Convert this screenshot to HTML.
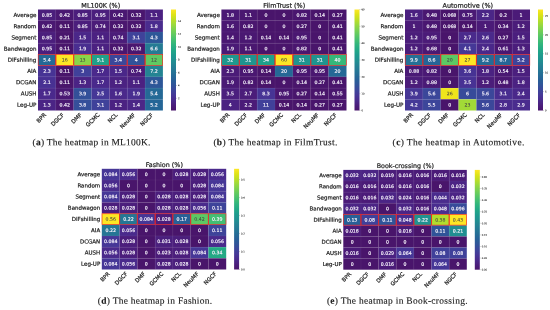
<!DOCTYPE html>
<html lang="en"><head><meta charset="utf-8"><title>Heatmaps</title>
<style>html,body{margin:0;padding:0;background:#fff}body{width:550px;height:310px;overflow:hidden}svg{display:block;filter:blur(0.3px)}</style>
</head><body>
<svg width="550" height="310" viewBox="0 0 550 310">
<defs>
<linearGradient id="vg" x1="0" y1="0" x2="0" y2="1"><stop offset="0.00" stop-color="#fde725"/><stop offset="0.05" stop-color="#dfe318"/><stop offset="0.10" stop-color="#bddf26"/><stop offset="0.15" stop-color="#9bd93d"/><stop offset="0.20" stop-color="#7ad152"/><stop offset="0.25" stop-color="#5ec962"/><stop offset="0.30" stop-color="#44bf72"/><stop offset="0.35" stop-color="#2fb47e"/><stop offset="0.40" stop-color="#22a886"/><stop offset="0.45" stop-color="#1e9c8d"/><stop offset="0.50" stop-color="#209191"/><stop offset="0.55" stop-color="#248493"/><stop offset="0.60" stop-color="#257895"/><stop offset="0.65" stop-color="#256c96"/><stop offset="0.70" stop-color="#285f97"/><stop offset="0.75" stop-color="#315399"/><stop offset="0.80" stop-color="#3d459a"/><stop offset="0.85" stop-color="#463797"/><stop offset="0.90" stop-color="#4a2a8c"/><stop offset="0.95" stop-color="#4b1e7c"/><stop offset="1.00" stop-color="#49156b"/></linearGradient>
</defs>
<rect width="550" height="310" fill="#fff"/>
<g font-family="DejaVu Sans, Liberation Sans, sans-serif">
<rect x="38.00" y="9.50" width="17.89" height="11.27" fill="#4b1e7c"/>
<rect x="55.84" y="9.50" width="17.89" height="11.27" fill="#4a1872"/>
<rect x="73.69" y="9.50" width="17.89" height="11.27" fill="#4b1e7c"/>
<rect x="91.53" y="9.50" width="17.89" height="11.27" fill="#4b1e7d"/>
<rect x="109.37" y="9.50" width="17.89" height="11.27" fill="#4a1872"/>
<rect x="127.21" y="9.50" width="17.89" height="11.27" fill="#4a166f"/>
<rect x="145.06" y="9.50" width="17.84" height="11.27" fill="#4b2181"/>
<rect x="38.00" y="20.72" width="17.89" height="11.27" fill="#4a1872"/>
<rect x="55.84" y="20.72" width="17.89" height="11.27" fill="#49156b"/>
<rect x="73.69" y="20.72" width="17.89" height="11.27" fill="#4b1e7c"/>
<rect x="91.53" y="20.72" width="17.89" height="11.27" fill="#4b1c79"/>
<rect x="109.37" y="20.72" width="17.89" height="11.27" fill="#4a166f"/>
<rect x="127.21" y="20.72" width="17.89" height="11.27" fill="#4a166f"/>
<rect x="145.06" y="20.72" width="17.84" height="11.27" fill="#4a2c8e"/>
<rect x="38.00" y="31.94" width="17.89" height="11.27" fill="#4b1e7c"/>
<rect x="55.84" y="31.94" width="17.89" height="11.27" fill="#49156c"/>
<rect x="73.69" y="31.94" width="17.89" height="11.27" fill="#4a2789"/>
<rect x="91.53" y="31.94" width="17.89" height="11.27" fill="#4b2181"/>
<rect x="109.37" y="31.94" width="17.89" height="11.27" fill="#4b1c79"/>
<rect x="127.21" y="31.94" width="17.89" height="11.27" fill="#3f429a"/>
<rect x="145.06" y="31.94" width="17.84" height="11.27" fill="#2d5798"/>
<rect x="38.00" y="43.17" width="17.89" height="11.27" fill="#4b1e7d"/>
<rect x="55.84" y="43.17" width="17.89" height="11.27" fill="#49156b"/>
<rect x="73.69" y="43.17" width="17.89" height="11.27" fill="#492e90"/>
<rect x="91.53" y="43.17" width="17.89" height="11.27" fill="#4b2181"/>
<rect x="109.37" y="43.17" width="17.89" height="11.27" fill="#4a166f"/>
<rect x="127.21" y="43.17" width="17.89" height="11.27" fill="#4a166f"/>
<rect x="145.06" y="43.17" width="17.84" height="11.27" fill="#257b94"/>
<rect x="38.00" y="54.39" width="17.89" height="11.27" fill="#256996"/>
<rect x="55.84" y="54.39" width="17.89" height="11.27" fill="#fde725"/>
<rect x="73.69" y="54.39" width="17.89" height="11.27" fill="#89d548"/>
<rect x="91.53" y="54.39" width="17.89" height="11.27" fill="#1fa18a"/>
<rect x="109.37" y="54.39" width="17.89" height="11.27" fill="#3b479a"/>
<rect x="127.21" y="54.39" width="17.89" height="11.27" fill="#325299"/>
<rect x="145.06" y="54.39" width="17.84" height="11.27" fill="#60ca61"/>
<rect x="38.00" y="65.61" width="17.89" height="11.27" fill="#473495"/>
<rect x="55.84" y="65.61" width="17.89" height="11.27" fill="#49156b"/>
<rect x="73.69" y="65.61" width="17.89" height="11.27" fill="#40419a"/>
<rect x="91.53" y="65.61" width="17.89" height="11.27" fill="#4a298c"/>
<rect x="109.37" y="65.61" width="17.89" height="11.27" fill="#4a2789"/>
<rect x="127.21" y="65.61" width="17.89" height="11.27" fill="#4b1c79"/>
<rect x="145.06" y="65.61" width="17.84" height="11.27" fill="#248493"/>
<rect x="38.00" y="76.83" width="17.89" height="11.27" fill="#483193"/>
<rect x="55.84" y="76.83" width="17.89" height="11.27" fill="#49156b"/>
<rect x="73.69" y="76.83" width="17.89" height="11.27" fill="#4b2485"/>
<rect x="91.53" y="76.83" width="17.89" height="11.27" fill="#4a298c"/>
<rect x="109.37" y="76.83" width="17.89" height="11.27" fill="#4b2282"/>
<rect x="127.21" y="76.83" width="17.89" height="11.27" fill="#4b2181"/>
<rect x="145.06" y="76.83" width="17.84" height="11.27" fill="#2d5798"/>
<rect x="38.00" y="88.06" width="17.89" height="11.27" fill="#4a298c"/>
<rect x="55.84" y="88.06" width="17.89" height="11.27" fill="#4a1873"/>
<rect x="73.69" y="88.06" width="17.89" height="11.27" fill="#335099"/>
<rect x="91.53" y="88.06" width="17.89" height="11.27" fill="#453797"/>
<rect x="109.37" y="88.06" width="17.89" height="11.27" fill="#4a298b"/>
<rect x="127.21" y="88.06" width="17.89" height="11.27" fill="#492e90"/>
<rect x="145.06" y="88.06" width="17.84" height="11.27" fill="#256996"/>
<rect x="38.00" y="99.28" width="17.89" height="11.22" fill="#4b2485"/>
<rect x="55.84" y="99.28" width="17.89" height="11.22" fill="#4a1872"/>
<rect x="73.69" y="99.28" width="17.89" height="11.22" fill="#354f9a"/>
<rect x="91.53" y="99.28" width="17.89" height="11.22" fill="#3f429a"/>
<rect x="109.37" y="99.28" width="17.89" height="11.22" fill="#4b2282"/>
<rect x="127.21" y="99.28" width="17.89" height="11.22" fill="#4b2687"/>
<rect x="145.06" y="99.28" width="17.84" height="11.22" fill="#256697"/>
<path d="M55.84 9.50V110.50M73.69 9.50V110.50M91.53 9.50V110.50M109.37 9.50V110.50M127.21 9.50V110.50M145.06 9.50V110.50M38.00 20.72H162.90M38.00 31.94H162.90M38.00 43.17H162.90M38.00 54.39H162.90M38.00 65.61H162.90M38.00 76.83H162.90M38.00 88.06H162.90M38.00 99.28H162.90" stroke="#fff" stroke-width="0.30" stroke-opacity="0.16" fill="none"/>
<rect x="38.21" y="54.60" width="17.42" height="10.80" fill="none" stroke="#f01a1a" stroke-width="0.62"/>
<rect x="56.05" y="54.60" width="17.42" height="10.80" fill="none" stroke="#f01a1a" stroke-width="0.62"/>
<rect x="73.90" y="54.60" width="17.42" height="10.80" fill="none" stroke="#f01a1a" stroke-width="0.62"/>
<rect x="91.74" y="54.60" width="17.42" height="10.80" fill="none" stroke="#f01a1a" stroke-width="0.62"/>
<rect x="109.58" y="54.60" width="17.42" height="10.80" fill="none" stroke="#f01a1a" stroke-width="0.62"/>
<rect x="127.42" y="54.60" width="17.42" height="10.80" fill="none" stroke="#f01a1a" stroke-width="0.62"/>
<rect x="145.27" y="54.60" width="17.42" height="10.80" fill="none" stroke="#f01a1a" stroke-width="0.62"/>
<text transform="translate(46.92 16.71) rotate(0.05)" font-size="4.70" text-anchor="middle" fill="#f4f0fa" stroke="#f4f0fa" stroke-width="0.17">0.85</text>
<text transform="translate(64.76 16.71) rotate(0.05)" font-size="4.70" text-anchor="middle" fill="#f4f0fa" stroke="#f4f0fa" stroke-width="0.17">0.42</text>
<text transform="translate(82.61 16.71) rotate(0.05)" font-size="4.70" text-anchor="middle" fill="#f4f0fa" stroke="#f4f0fa" stroke-width="0.17">0.85</text>
<text transform="translate(100.45 16.71) rotate(0.05)" font-size="4.70" text-anchor="middle" fill="#f4f0fa" stroke="#f4f0fa" stroke-width="0.17">0.95</text>
<text transform="translate(118.29 16.71) rotate(0.05)" font-size="4.70" text-anchor="middle" fill="#f4f0fa" stroke="#f4f0fa" stroke-width="0.17">0.42</text>
<text transform="translate(136.14 16.71) rotate(0.05)" font-size="4.70" text-anchor="middle" fill="#f4f0fa" stroke="#f4f0fa" stroke-width="0.17">0.32</text>
<text transform="translate(153.98 16.71) rotate(0.05)" font-size="4.70" text-anchor="middle" fill="#f4f0fa" stroke="#f4f0fa" stroke-width="0.17">1.1</text>
<text transform="translate(46.92 27.93) rotate(0.05)" font-size="4.70" text-anchor="middle" fill="#f4f0fa" stroke="#f4f0fa" stroke-width="0.17">0.42</text>
<text transform="translate(64.76 27.93) rotate(0.05)" font-size="4.70" text-anchor="middle" fill="#f4f0fa" stroke="#f4f0fa" stroke-width="0.17">0.11</text>
<text transform="translate(82.61 27.93) rotate(0.05)" font-size="4.70" text-anchor="middle" fill="#f4f0fa" stroke="#f4f0fa" stroke-width="0.17">0.85</text>
<text transform="translate(100.45 27.93) rotate(0.05)" font-size="4.70" text-anchor="middle" fill="#f4f0fa" stroke="#f4f0fa" stroke-width="0.17">0.74</text>
<text transform="translate(118.29 27.93) rotate(0.05)" font-size="4.70" text-anchor="middle" fill="#f4f0fa" stroke="#f4f0fa" stroke-width="0.17">0.32</text>
<text transform="translate(136.14 27.93) rotate(0.05)" font-size="4.70" text-anchor="middle" fill="#f4f0fa" stroke="#f4f0fa" stroke-width="0.17">0.32</text>
<text transform="translate(153.98 27.93) rotate(0.05)" font-size="4.70" text-anchor="middle" fill="#f4f0fa" stroke="#f4f0fa" stroke-width="0.17">1.8</text>
<text transform="translate(46.92 39.15) rotate(0.05)" font-size="4.70" text-anchor="middle" fill="#f4f0fa" stroke="#f4f0fa" stroke-width="0.17">0.85</text>
<text transform="translate(64.76 39.15) rotate(0.05)" font-size="4.70" text-anchor="middle" fill="#f4f0fa" stroke="#f4f0fa" stroke-width="0.17">0.21</text>
<text transform="translate(82.61 39.15) rotate(0.05)" font-size="4.70" text-anchor="middle" fill="#f4f0fa" stroke="#f4f0fa" stroke-width="0.17">1.5</text>
<text transform="translate(100.45 39.15) rotate(0.05)" font-size="4.70" text-anchor="middle" fill="#f4f0fa" stroke="#f4f0fa" stroke-width="0.17">1.1</text>
<text transform="translate(118.29 39.15) rotate(0.05)" font-size="4.70" text-anchor="middle" fill="#f4f0fa" stroke="#f4f0fa" stroke-width="0.17">0.74</text>
<text transform="translate(136.14 39.15) rotate(0.05)" font-size="4.70" text-anchor="middle" fill="#f4f0fa" stroke="#f4f0fa" stroke-width="0.17">3.1</text>
<text transform="translate(153.98 39.15) rotate(0.05)" font-size="4.70" text-anchor="middle" fill="#f4f0fa" stroke="#f4f0fa" stroke-width="0.17">4.3</text>
<text transform="translate(46.92 50.37) rotate(0.05)" font-size="4.70" text-anchor="middle" fill="#f4f0fa" stroke="#f4f0fa" stroke-width="0.17">0.95</text>
<text transform="translate(64.76 50.37) rotate(0.05)" font-size="4.70" text-anchor="middle" fill="#f4f0fa" stroke="#f4f0fa" stroke-width="0.17">0.11</text>
<text transform="translate(82.61 50.37) rotate(0.05)" font-size="4.70" text-anchor="middle" fill="#f4f0fa" stroke="#f4f0fa" stroke-width="0.17">1.9</text>
<text transform="translate(100.45 50.37) rotate(0.05)" font-size="4.70" text-anchor="middle" fill="#f4f0fa" stroke="#f4f0fa" stroke-width="0.17">1.1</text>
<text transform="translate(118.29 50.37) rotate(0.05)" font-size="4.70" text-anchor="middle" fill="#f4f0fa" stroke="#f4f0fa" stroke-width="0.17">0.32</text>
<text transform="translate(136.14 50.37) rotate(0.05)" font-size="4.70" text-anchor="middle" fill="#f4f0fa" stroke="#f4f0fa" stroke-width="0.17">0.32</text>
<text transform="translate(153.98 50.37) rotate(0.05)" font-size="4.70" text-anchor="middle" fill="#f4f0fa" stroke="#f4f0fa" stroke-width="0.17">6.6</text>
<text transform="translate(46.92 61.60) rotate(0.05)" font-size="4.70" text-anchor="middle" fill="#f4f0fa" stroke="#f4f0fa" stroke-width="0.17">5.4</text>
<text transform="translate(64.76 61.60) rotate(0.05)" font-size="4.70" text-anchor="middle" fill="#444444" stroke="#444444" stroke-width="0.05">16</text>
<text transform="translate(82.61 61.60) rotate(0.05)" font-size="4.70" text-anchor="middle" fill="#444444" stroke="#444444" stroke-width="0.05">13</text>
<text transform="translate(100.45 61.60) rotate(0.05)" font-size="4.70" text-anchor="middle" fill="#f4f0fa" stroke="#f4f0fa" stroke-width="0.17">9.1</text>
<text transform="translate(118.29 61.60) rotate(0.05)" font-size="4.70" text-anchor="middle" fill="#f4f0fa" stroke="#f4f0fa" stroke-width="0.17">3.4</text>
<text transform="translate(136.14 61.60) rotate(0.05)" font-size="4.70" text-anchor="middle" fill="#f4f0fa" stroke="#f4f0fa" stroke-width="0.17">4</text>
<text transform="translate(153.98 61.60) rotate(0.05)" font-size="4.70" text-anchor="middle" fill="#444444" stroke="#444444" stroke-width="0.05">12</text>
<text transform="translate(46.92 72.82) rotate(0.05)" font-size="4.70" text-anchor="middle" fill="#f4f0fa" stroke="#f4f0fa" stroke-width="0.17">2.3</text>
<text transform="translate(64.76 72.82) rotate(0.05)" font-size="4.70" text-anchor="middle" fill="#f4f0fa" stroke="#f4f0fa" stroke-width="0.17">0.11</text>
<text transform="translate(82.61 72.82) rotate(0.05)" font-size="4.70" text-anchor="middle" fill="#f4f0fa" stroke="#f4f0fa" stroke-width="0.17">3</text>
<text transform="translate(100.45 72.82) rotate(0.05)" font-size="4.70" text-anchor="middle" fill="#f4f0fa" stroke="#f4f0fa" stroke-width="0.17">1.7</text>
<text transform="translate(118.29 72.82) rotate(0.05)" font-size="4.70" text-anchor="middle" fill="#f4f0fa" stroke="#f4f0fa" stroke-width="0.17">1.5</text>
<text transform="translate(136.14 72.82) rotate(0.05)" font-size="4.70" text-anchor="middle" fill="#f4f0fa" stroke="#f4f0fa" stroke-width="0.17">0.74</text>
<text transform="translate(153.98 72.82) rotate(0.05)" font-size="4.70" text-anchor="middle" fill="#f4f0fa" stroke="#f4f0fa" stroke-width="0.17">7.2</text>
<text transform="translate(46.92 84.04) rotate(0.05)" font-size="4.70" text-anchor="middle" fill="#f4f0fa" stroke="#f4f0fa" stroke-width="0.17">2.1</text>
<text transform="translate(64.76 84.04) rotate(0.05)" font-size="4.70" text-anchor="middle" fill="#f4f0fa" stroke="#f4f0fa" stroke-width="0.17">0.11</text>
<text transform="translate(82.61 84.04) rotate(0.05)" font-size="4.70" text-anchor="middle" fill="#f4f0fa" stroke="#f4f0fa" stroke-width="0.17">1.3</text>
<text transform="translate(100.45 84.04) rotate(0.05)" font-size="4.70" text-anchor="middle" fill="#f4f0fa" stroke="#f4f0fa" stroke-width="0.17">1.7</text>
<text transform="translate(118.29 84.04) rotate(0.05)" font-size="4.70" text-anchor="middle" fill="#f4f0fa" stroke="#f4f0fa" stroke-width="0.17">1.2</text>
<text transform="translate(136.14 84.04) rotate(0.05)" font-size="4.70" text-anchor="middle" fill="#f4f0fa" stroke="#f4f0fa" stroke-width="0.17">1.1</text>
<text transform="translate(153.98 84.04) rotate(0.05)" font-size="4.70" text-anchor="middle" fill="#f4f0fa" stroke="#f4f0fa" stroke-width="0.17">4.3</text>
<text transform="translate(46.92 95.26) rotate(0.05)" font-size="4.70" text-anchor="middle" fill="#f4f0fa" stroke="#f4f0fa" stroke-width="0.17">1.7</text>
<text transform="translate(64.76 95.26) rotate(0.05)" font-size="4.70" text-anchor="middle" fill="#f4f0fa" stroke="#f4f0fa" stroke-width="0.17">0.53</text>
<text transform="translate(82.61 95.26) rotate(0.05)" font-size="4.70" text-anchor="middle" fill="#f4f0fa" stroke="#f4f0fa" stroke-width="0.17">3.9</text>
<text transform="translate(100.45 95.26) rotate(0.05)" font-size="4.70" text-anchor="middle" fill="#f4f0fa" stroke="#f4f0fa" stroke-width="0.17">2.5</text>
<text transform="translate(118.29 95.26) rotate(0.05)" font-size="4.70" text-anchor="middle" fill="#f4f0fa" stroke="#f4f0fa" stroke-width="0.17">1.6</text>
<text transform="translate(136.14 95.26) rotate(0.05)" font-size="4.70" text-anchor="middle" fill="#f4f0fa" stroke="#f4f0fa" stroke-width="0.17">1.9</text>
<text transform="translate(153.98 95.26) rotate(0.05)" font-size="4.70" text-anchor="middle" fill="#f4f0fa" stroke="#f4f0fa" stroke-width="0.17">5.4</text>
<text transform="translate(46.92 106.49) rotate(0.05)" font-size="4.70" text-anchor="middle" fill="#f4f0fa" stroke="#f4f0fa" stroke-width="0.17">1.3</text>
<text transform="translate(64.76 106.49) rotate(0.05)" font-size="4.70" text-anchor="middle" fill="#f4f0fa" stroke="#f4f0fa" stroke-width="0.17">0.42</text>
<text transform="translate(82.61 106.49) rotate(0.05)" font-size="4.70" text-anchor="middle" fill="#f4f0fa" stroke="#f4f0fa" stroke-width="0.17">3.8</text>
<text transform="translate(100.45 106.49) rotate(0.05)" font-size="4.70" text-anchor="middle" fill="#f4f0fa" stroke="#f4f0fa" stroke-width="0.17">3.1</text>
<text transform="translate(118.29 106.49) rotate(0.05)" font-size="4.70" text-anchor="middle" fill="#f4f0fa" stroke="#f4f0fa" stroke-width="0.17">1.2</text>
<text transform="translate(136.14 106.49) rotate(0.05)" font-size="4.70" text-anchor="middle" fill="#f4f0fa" stroke="#f4f0fa" stroke-width="0.17">1.4</text>
<text transform="translate(153.98 106.49) rotate(0.05)" font-size="4.70" text-anchor="middle" fill="#f4f0fa" stroke="#f4f0fa" stroke-width="0.17">5.2</text>
<text transform="translate(36.40 16.99) rotate(0.05)" font-size="5.55" text-anchor="end" fill="#262626" stroke="#262626" stroke-width="0.23">Average</text>
<text transform="translate(36.40 28.22) rotate(0.05)" font-size="5.55" text-anchor="end" fill="#262626" stroke="#262626" stroke-width="0.23">Random</text>
<text transform="translate(36.40 39.44) rotate(0.05)" font-size="5.55" text-anchor="end" fill="#262626" stroke="#262626" stroke-width="0.23">Segment</text>
<text transform="translate(36.40 50.66) rotate(0.05)" font-size="5.55" text-anchor="end" fill="#262626" stroke="#262626" stroke-width="0.23">Bandwagon</text>
<text transform="translate(36.40 61.88) rotate(0.05)" font-size="5.55" text-anchor="end" fill="#262626" stroke="#262626" stroke-width="0.23">DIFshilling</text>
<text transform="translate(36.40 73.10) rotate(0.05)" font-size="5.55" text-anchor="end" fill="#262626" stroke="#262626" stroke-width="0.23">AIA</text>
<text transform="translate(36.40 84.33) rotate(0.05)" font-size="5.55" text-anchor="end" fill="#262626" stroke="#262626" stroke-width="0.23">DCGAN</text>
<text transform="translate(36.40 95.55) rotate(0.05)" font-size="5.55" text-anchor="end" fill="#262626" stroke="#262626" stroke-width="0.23">AUSH</text>
<text transform="translate(36.40 106.77) rotate(0.05)" font-size="5.55" text-anchor="end" fill="#262626" stroke="#262626" stroke-width="0.23">Leg-UP</text>
<text transform="translate(43.72 112.50) rotate(-45)" font-size="5.60" text-anchor="end" fill="#262626" stroke="#262626" stroke-width="0.23" dy="4.03">BPR</text>
<text transform="translate(61.56 112.50) rotate(-45)" font-size="5.60" text-anchor="end" fill="#262626" stroke="#262626" stroke-width="0.23" dy="4.03">DGCF</text>
<text transform="translate(79.41 112.50) rotate(-45)" font-size="5.60" text-anchor="end" fill="#262626" stroke="#262626" stroke-width="0.23" dy="4.03">DMF</text>
<text transform="translate(97.25 112.50) rotate(-45)" font-size="5.60" text-anchor="end" fill="#262626" stroke="#262626" stroke-width="0.23" dy="4.03">GCMC</text>
<text transform="translate(115.09 112.50) rotate(-45)" font-size="5.60" text-anchor="end" fill="#262626" stroke="#262626" stroke-width="0.23" dy="4.03">NCL</text>
<text transform="translate(132.94 112.50) rotate(-45)" font-size="5.60" text-anchor="end" fill="#262626" stroke="#262626" stroke-width="0.23" dy="4.03">NeuMF</text>
<text transform="translate(150.78 112.50) rotate(-45)" font-size="5.60" text-anchor="end" fill="#262626" stroke="#262626" stroke-width="0.23" dy="4.03">NGCF</text>
<text transform="translate(100.75 7.65) rotate(0.05)" font-size="6.45" text-anchor="middle" fill="#262626" stroke="#262626" stroke-width="0.23">ML100K (%)</text>
<rect x="171.00" y="9.50" width="5.00" height="101.00" fill="url(#vg)"/>
<path d="M176.00 98.33h0.9" stroke="#555" stroke-width="0.3"/>
<text transform="translate(177.90 99.20) rotate(0.05)" font-size="2.40" text-anchor="start" fill="#262626" stroke="#262626" stroke-width="0.08">2</text>
<path d="M176.00 85.46h0.9" stroke="#555" stroke-width="0.3"/>
<text transform="translate(177.90 86.32) rotate(0.05)" font-size="2.40" text-anchor="start" fill="#262626" stroke="#262626" stroke-width="0.08">4</text>
<path d="M176.00 72.58h0.9" stroke="#555" stroke-width="0.3"/>
<text transform="translate(177.90 73.45) rotate(0.05)" font-size="2.40" text-anchor="start" fill="#262626" stroke="#262626" stroke-width="0.08">6</text>
<path d="M176.00 59.71h0.9" stroke="#555" stroke-width="0.3"/>
<text transform="translate(177.90 60.57) rotate(0.05)" font-size="2.40" text-anchor="start" fill="#262626" stroke="#262626" stroke-width="0.08">8</text>
<path d="M176.00 46.84h0.9" stroke="#555" stroke-width="0.3"/>
<text transform="translate(177.90 47.70) rotate(0.05)" font-size="2.40" text-anchor="start" fill="#262626" stroke="#262626" stroke-width="0.08">10</text>
<path d="M176.00 33.96h0.9" stroke="#555" stroke-width="0.3"/>
<text transform="translate(177.90 34.83) rotate(0.05)" font-size="2.40" text-anchor="start" fill="#262626" stroke="#262626" stroke-width="0.08">12</text>
<path d="M176.00 21.09h0.9" stroke="#555" stroke-width="0.3"/>
<text transform="translate(177.90 21.95) rotate(0.05)" font-size="2.40" text-anchor="start" fill="#262626" stroke="#262626" stroke-width="0.08">14</text>
</g>
<text transform="translate(32.60 145.20) rotate(0.03)" font-family="Liberation Serif, DejaVu Serif, serif" font-size="9.45" textLength="117.80" lengthAdjust="spacing" fill="#1c1c1c" stroke="#1c1c1c" stroke-width="0.14">(<tspan font-weight="bold">a</tspan>) The heatmap in ML100K.</text>
<g font-family="DejaVu Sans, Liberation Sans, sans-serif">
<rect x="221.40" y="9.50" width="17.92" height="11.27" fill="#4a1975"/>
<rect x="239.27" y="9.50" width="17.92" height="11.27" fill="#4a1770"/>
<rect x="257.14" y="9.50" width="17.92" height="11.27" fill="#49156b"/>
<rect x="275.01" y="9.50" width="17.92" height="11.27" fill="#49156b"/>
<rect x="292.89" y="9.50" width="17.92" height="11.27" fill="#4a166f"/>
<rect x="310.76" y="9.50" width="17.92" height="11.27" fill="#49156b"/>
<rect x="328.63" y="9.50" width="17.87" height="11.27" fill="#49156c"/>
<rect x="221.40" y="20.72" width="17.92" height="11.27" fill="#4a1873"/>
<rect x="239.27" y="20.72" width="17.92" height="11.27" fill="#4a166f"/>
<rect x="257.14" y="20.72" width="17.92" height="11.27" fill="#49156b"/>
<rect x="275.01" y="20.72" width="17.92" height="11.27" fill="#49156b"/>
<rect x="292.89" y="20.72" width="17.92" height="11.27" fill="#49156c"/>
<rect x="310.76" y="20.72" width="17.92" height="11.27" fill="#49156b"/>
<rect x="328.63" y="20.72" width="17.87" height="11.27" fill="#49156c"/>
<rect x="221.40" y="31.94" width="17.92" height="11.27" fill="#4a1772"/>
<rect x="239.27" y="31.94" width="17.92" height="11.27" fill="#4a1872"/>
<rect x="257.14" y="31.94" width="17.92" height="11.27" fill="#49156b"/>
<rect x="275.01" y="31.94" width="17.92" height="11.27" fill="#49156b"/>
<rect x="292.89" y="31.94" width="17.92" height="11.27" fill="#4a1771"/>
<rect x="310.76" y="31.94" width="17.92" height="11.27" fill="#49156b"/>
<rect x="328.63" y="31.94" width="17.87" height="11.27" fill="#49156c"/>
<rect x="221.40" y="43.17" width="17.92" height="11.27" fill="#4a1a76"/>
<rect x="239.27" y="43.17" width="17.92" height="11.27" fill="#4a1770"/>
<rect x="257.14" y="43.17" width="17.92" height="11.27" fill="#49156b"/>
<rect x="275.01" y="43.17" width="17.92" height="11.27" fill="#49156b"/>
<rect x="292.89" y="43.17" width="17.92" height="11.27" fill="#4a166f"/>
<rect x="310.76" y="43.17" width="17.92" height="11.27" fill="#49156b"/>
<rect x="328.63" y="43.17" width="17.87" height="11.27" fill="#49156c"/>
<rect x="221.40" y="54.39" width="17.92" height="11.27" fill="#1f988e"/>
<rect x="239.27" y="54.39" width="17.92" height="11.27" fill="#1f948f"/>
<rect x="257.14" y="54.39" width="17.92" height="11.27" fill="#1fa18b"/>
<rect x="275.01" y="54.39" width="17.92" height="11.27" fill="#fde725"/>
<rect x="292.89" y="54.39" width="17.92" height="11.27" fill="#1f948f"/>
<rect x="310.76" y="54.39" width="17.92" height="11.27" fill="#1f948f"/>
<rect x="328.63" y="54.39" width="17.87" height="11.27" fill="#35b77a"/>
<rect x="221.40" y="65.61" width="17.92" height="11.27" fill="#4b1b78"/>
<rect x="239.27" y="65.61" width="17.92" height="11.27" fill="#4a1771"/>
<rect x="257.14" y="65.61" width="17.92" height="11.27" fill="#49156b"/>
<rect x="275.01" y="65.61" width="17.92" height="11.27" fill="#256896"/>
<rect x="292.89" y="65.61" width="17.92" height="11.27" fill="#4a1771"/>
<rect x="310.76" y="65.61" width="17.92" height="11.27" fill="#4a1771"/>
<rect x="328.63" y="65.61" width="17.87" height="11.27" fill="#256896"/>
<rect x="221.40" y="76.83" width="17.92" height="11.27" fill="#4a1a76"/>
<rect x="239.27" y="76.83" width="17.92" height="11.27" fill="#4a166f"/>
<rect x="257.14" y="76.83" width="17.92" height="11.27" fill="#49156b"/>
<rect x="275.01" y="76.83" width="17.92" height="11.27" fill="#49156b"/>
<rect x="292.89" y="76.83" width="17.92" height="11.27" fill="#49156b"/>
<rect x="310.76" y="76.83" width="17.92" height="11.27" fill="#49156c"/>
<rect x="328.63" y="76.83" width="17.87" height="11.27" fill="#49156c"/>
<rect x="221.40" y="88.06" width="17.92" height="11.27" fill="#4b1f7e"/>
<rect x="239.27" y="88.06" width="17.92" height="11.27" fill="#4b1d7a"/>
<rect x="257.14" y="88.06" width="17.92" height="11.27" fill="#473495"/>
<rect x="275.01" y="88.06" width="17.92" height="11.27" fill="#4a1771"/>
<rect x="292.89" y="88.06" width="17.92" height="11.27" fill="#49156c"/>
<rect x="310.76" y="88.06" width="17.92" height="11.27" fill="#49156b"/>
<rect x="328.63" y="88.06" width="17.87" height="11.27" fill="#49166e"/>
<rect x="221.40" y="99.28" width="17.92" height="11.22" fill="#4b2282"/>
<rect x="239.27" y="99.28" width="17.92" height="11.22" fill="#4b1b78"/>
<rect x="257.14" y="99.28" width="17.92" height="11.22" fill="#41409a"/>
<rect x="275.01" y="99.28" width="17.92" height="11.22" fill="#49156b"/>
<rect x="292.89" y="99.28" width="17.92" height="11.22" fill="#49156b"/>
<rect x="310.76" y="99.28" width="17.92" height="11.22" fill="#49156c"/>
<rect x="328.63" y="99.28" width="17.87" height="11.22" fill="#49156c"/>
<path d="M239.27 9.50V110.50M257.14 9.50V110.50M275.01 9.50V110.50M292.89 9.50V110.50M310.76 9.50V110.50M328.63 9.50V110.50M221.40 20.72H346.50M221.40 31.94H346.50M221.40 43.17H346.50M221.40 54.39H346.50M221.40 65.61H346.50M221.40 76.83H346.50M221.40 88.06H346.50M221.40 99.28H346.50" stroke="#fff" stroke-width="0.30" stroke-opacity="0.16" fill="none"/>
<rect x="221.61" y="54.60" width="17.45" height="10.80" fill="none" stroke="#f01a1a" stroke-width="0.62"/>
<rect x="239.48" y="54.60" width="17.45" height="10.80" fill="none" stroke="#f01a1a" stroke-width="0.62"/>
<rect x="257.35" y="54.60" width="17.45" height="10.80" fill="none" stroke="#f01a1a" stroke-width="0.62"/>
<rect x="275.22" y="54.60" width="17.45" height="10.80" fill="none" stroke="#f01a1a" stroke-width="0.62"/>
<rect x="293.10" y="54.60" width="17.45" height="10.80" fill="none" stroke="#f01a1a" stroke-width="0.62"/>
<rect x="310.97" y="54.60" width="17.45" height="10.80" fill="none" stroke="#f01a1a" stroke-width="0.62"/>
<rect x="328.84" y="54.60" width="17.45" height="10.80" fill="none" stroke="#f01a1a" stroke-width="0.62"/>
<text transform="translate(230.34 16.71) rotate(0.05)" font-size="4.70" text-anchor="middle" fill="#f4f0fa" stroke="#f4f0fa" stroke-width="0.17">1.8</text>
<text transform="translate(248.21 16.71) rotate(0.05)" font-size="4.70" text-anchor="middle" fill="#f4f0fa" stroke="#f4f0fa" stroke-width="0.17">1.1</text>
<text transform="translate(266.08 16.71) rotate(0.05)" font-size="4.70" text-anchor="middle" fill="#f4f0fa" stroke="#f4f0fa" stroke-width="0.17">0</text>
<text transform="translate(283.95 16.71) rotate(0.05)" font-size="4.70" text-anchor="middle" fill="#f4f0fa" stroke="#f4f0fa" stroke-width="0.17">0</text>
<text transform="translate(301.82 16.71) rotate(0.05)" font-size="4.70" text-anchor="middle" fill="#f4f0fa" stroke="#f4f0fa" stroke-width="0.17">0.82</text>
<text transform="translate(319.69 16.71) rotate(0.05)" font-size="4.70" text-anchor="middle" fill="#f4f0fa" stroke="#f4f0fa" stroke-width="0.17">0.14</text>
<text transform="translate(337.56 16.71) rotate(0.05)" font-size="4.70" text-anchor="middle" fill="#f4f0fa" stroke="#f4f0fa" stroke-width="0.17">0.27</text>
<text transform="translate(230.34 27.93) rotate(0.05)" font-size="4.70" text-anchor="middle" fill="#f4f0fa" stroke="#f4f0fa" stroke-width="0.17">1.6</text>
<text transform="translate(248.21 27.93) rotate(0.05)" font-size="4.70" text-anchor="middle" fill="#f4f0fa" stroke="#f4f0fa" stroke-width="0.17">0.82</text>
<text transform="translate(266.08 27.93) rotate(0.05)" font-size="4.70" text-anchor="middle" fill="#f4f0fa" stroke="#f4f0fa" stroke-width="0.17">0</text>
<text transform="translate(283.95 27.93) rotate(0.05)" font-size="4.70" text-anchor="middle" fill="#f4f0fa" stroke="#f4f0fa" stroke-width="0.17">0</text>
<text transform="translate(301.82 27.93) rotate(0.05)" font-size="4.70" text-anchor="middle" fill="#f4f0fa" stroke="#f4f0fa" stroke-width="0.17">0.27</text>
<text transform="translate(319.69 27.93) rotate(0.05)" font-size="4.70" text-anchor="middle" fill="#f4f0fa" stroke="#f4f0fa" stroke-width="0.17">0</text>
<text transform="translate(337.56 27.93) rotate(0.05)" font-size="4.70" text-anchor="middle" fill="#f4f0fa" stroke="#f4f0fa" stroke-width="0.17">0.41</text>
<text transform="translate(230.34 39.15) rotate(0.05)" font-size="4.70" text-anchor="middle" fill="#f4f0fa" stroke="#f4f0fa" stroke-width="0.17">1.4</text>
<text transform="translate(248.21 39.15) rotate(0.05)" font-size="4.70" text-anchor="middle" fill="#f4f0fa" stroke="#f4f0fa" stroke-width="0.17">1.2</text>
<text transform="translate(266.08 39.15) rotate(0.05)" font-size="4.70" text-anchor="middle" fill="#f4f0fa" stroke="#f4f0fa" stroke-width="0.17">0.14</text>
<text transform="translate(283.95 39.15) rotate(0.05)" font-size="4.70" text-anchor="middle" fill="#f4f0fa" stroke="#f4f0fa" stroke-width="0.17">0.14</text>
<text transform="translate(301.82 39.15) rotate(0.05)" font-size="4.70" text-anchor="middle" fill="#f4f0fa" stroke="#f4f0fa" stroke-width="0.17">0.95</text>
<text transform="translate(319.69 39.15) rotate(0.05)" font-size="4.70" text-anchor="middle" fill="#f4f0fa" stroke="#f4f0fa" stroke-width="0.17">0</text>
<text transform="translate(337.56 39.15) rotate(0.05)" font-size="4.70" text-anchor="middle" fill="#f4f0fa" stroke="#f4f0fa" stroke-width="0.17">0.41</text>
<text transform="translate(230.34 50.37) rotate(0.05)" font-size="4.70" text-anchor="middle" fill="#f4f0fa" stroke="#f4f0fa" stroke-width="0.17">1.9</text>
<text transform="translate(248.21 50.37) rotate(0.05)" font-size="4.70" text-anchor="middle" fill="#f4f0fa" stroke="#f4f0fa" stroke-width="0.17">1.1</text>
<text transform="translate(266.08 50.37) rotate(0.05)" font-size="4.70" text-anchor="middle" fill="#f4f0fa" stroke="#f4f0fa" stroke-width="0.17">0</text>
<text transform="translate(283.95 50.37) rotate(0.05)" font-size="4.70" text-anchor="middle" fill="#f4f0fa" stroke="#f4f0fa" stroke-width="0.17">0</text>
<text transform="translate(301.82 50.37) rotate(0.05)" font-size="4.70" text-anchor="middle" fill="#f4f0fa" stroke="#f4f0fa" stroke-width="0.17">0.82</text>
<text transform="translate(319.69 50.37) rotate(0.05)" font-size="4.70" text-anchor="middle" fill="#f4f0fa" stroke="#f4f0fa" stroke-width="0.17">0</text>
<text transform="translate(337.56 50.37) rotate(0.05)" font-size="4.70" text-anchor="middle" fill="#f4f0fa" stroke="#f4f0fa" stroke-width="0.17">0.41</text>
<text transform="translate(230.34 61.60) rotate(0.05)" font-size="4.70" text-anchor="middle" fill="#f4f0fa" stroke="#f4f0fa" stroke-width="0.17">32</text>
<text transform="translate(248.21 61.60) rotate(0.05)" font-size="4.70" text-anchor="middle" fill="#f4f0fa" stroke="#f4f0fa" stroke-width="0.17">31</text>
<text transform="translate(266.08 61.60) rotate(0.05)" font-size="4.70" text-anchor="middle" fill="#f4f0fa" stroke="#f4f0fa" stroke-width="0.17">34</text>
<text transform="translate(283.95 61.60) rotate(0.05)" font-size="4.70" text-anchor="middle" fill="#444444" stroke="#444444" stroke-width="0.05">60</text>
<text transform="translate(301.82 61.60) rotate(0.05)" font-size="4.70" text-anchor="middle" fill="#f4f0fa" stroke="#f4f0fa" stroke-width="0.17">31</text>
<text transform="translate(319.69 61.60) rotate(0.05)" font-size="4.70" text-anchor="middle" fill="#f4f0fa" stroke="#f4f0fa" stroke-width="0.17">31</text>
<text transform="translate(337.56 61.60) rotate(0.05)" font-size="4.70" text-anchor="middle" fill="#f4f0fa" stroke="#f4f0fa" stroke-width="0.17">40</text>
<text transform="translate(230.34 72.82) rotate(0.05)" font-size="4.70" text-anchor="middle" fill="#f4f0fa" stroke="#f4f0fa" stroke-width="0.17">2.3</text>
<text transform="translate(248.21 72.82) rotate(0.05)" font-size="4.70" text-anchor="middle" fill="#f4f0fa" stroke="#f4f0fa" stroke-width="0.17">0.95</text>
<text transform="translate(266.08 72.82) rotate(0.05)" font-size="4.70" text-anchor="middle" fill="#f4f0fa" stroke="#f4f0fa" stroke-width="0.17">0.14</text>
<text transform="translate(283.95 72.82) rotate(0.05)" font-size="4.70" text-anchor="middle" fill="#f4f0fa" stroke="#f4f0fa" stroke-width="0.17">20</text>
<text transform="translate(301.82 72.82) rotate(0.05)" font-size="4.70" text-anchor="middle" fill="#f4f0fa" stroke="#f4f0fa" stroke-width="0.17">0.95</text>
<text transform="translate(319.69 72.82) rotate(0.05)" font-size="4.70" text-anchor="middle" fill="#f4f0fa" stroke="#f4f0fa" stroke-width="0.17">0.95</text>
<text transform="translate(337.56 72.82) rotate(0.05)" font-size="4.70" text-anchor="middle" fill="#f4f0fa" stroke="#f4f0fa" stroke-width="0.17">20</text>
<text transform="translate(230.34 84.04) rotate(0.05)" font-size="4.70" text-anchor="middle" fill="#f4f0fa" stroke="#f4f0fa" stroke-width="0.17">1.9</text>
<text transform="translate(248.21 84.04) rotate(0.05)" font-size="4.70" text-anchor="middle" fill="#f4f0fa" stroke="#f4f0fa" stroke-width="0.17">0.82</text>
<text transform="translate(266.08 84.04) rotate(0.05)" font-size="4.70" text-anchor="middle" fill="#f4f0fa" stroke="#f4f0fa" stroke-width="0.17">0.14</text>
<text transform="translate(283.95 84.04) rotate(0.05)" font-size="4.70" text-anchor="middle" fill="#f4f0fa" stroke="#f4f0fa" stroke-width="0.17">0</text>
<text transform="translate(301.82 84.04) rotate(0.05)" font-size="4.70" text-anchor="middle" fill="#f4f0fa" stroke="#f4f0fa" stroke-width="0.17">0.14</text>
<text transform="translate(319.69 84.04) rotate(0.05)" font-size="4.70" text-anchor="middle" fill="#f4f0fa" stroke="#f4f0fa" stroke-width="0.17">0.27</text>
<text transform="translate(337.56 84.04) rotate(0.05)" font-size="4.70" text-anchor="middle" fill="#f4f0fa" stroke="#f4f0fa" stroke-width="0.17">0.41</text>
<text transform="translate(230.34 95.26) rotate(0.05)" font-size="4.70" text-anchor="middle" fill="#f4f0fa" stroke="#f4f0fa" stroke-width="0.17">3.5</text>
<text transform="translate(248.21 95.26) rotate(0.05)" font-size="4.70" text-anchor="middle" fill="#f4f0fa" stroke="#f4f0fa" stroke-width="0.17">2.7</text>
<text transform="translate(266.08 95.26) rotate(0.05)" font-size="4.70" text-anchor="middle" fill="#f4f0fa" stroke="#f4f0fa" stroke-width="0.17">8.3</text>
<text transform="translate(283.95 95.26) rotate(0.05)" font-size="4.70" text-anchor="middle" fill="#f4f0fa" stroke="#f4f0fa" stroke-width="0.17">0.95</text>
<text transform="translate(301.82 95.26) rotate(0.05)" font-size="4.70" text-anchor="middle" fill="#f4f0fa" stroke="#f4f0fa" stroke-width="0.17">0.27</text>
<text transform="translate(319.69 95.26) rotate(0.05)" font-size="4.70" text-anchor="middle" fill="#f4f0fa" stroke="#f4f0fa" stroke-width="0.17">0.14</text>
<text transform="translate(337.56 95.26) rotate(0.05)" font-size="4.70" text-anchor="middle" fill="#f4f0fa" stroke="#f4f0fa" stroke-width="0.17">0.55</text>
<text transform="translate(230.34 106.49) rotate(0.05)" font-size="4.70" text-anchor="middle" fill="#f4f0fa" stroke="#f4f0fa" stroke-width="0.17">4</text>
<text transform="translate(248.21 106.49) rotate(0.05)" font-size="4.70" text-anchor="middle" fill="#f4f0fa" stroke="#f4f0fa" stroke-width="0.17">2.2</text>
<text transform="translate(266.08 106.49) rotate(0.05)" font-size="4.70" text-anchor="middle" fill="#f4f0fa" stroke="#f4f0fa" stroke-width="0.17">11</text>
<text transform="translate(283.95 106.49) rotate(0.05)" font-size="4.70" text-anchor="middle" fill="#f4f0fa" stroke="#f4f0fa" stroke-width="0.17">0.14</text>
<text transform="translate(301.82 106.49) rotate(0.05)" font-size="4.70" text-anchor="middle" fill="#f4f0fa" stroke="#f4f0fa" stroke-width="0.17">0.14</text>
<text transform="translate(319.69 106.49) rotate(0.05)" font-size="4.70" text-anchor="middle" fill="#f4f0fa" stroke="#f4f0fa" stroke-width="0.17">0.27</text>
<text transform="translate(337.56 106.49) rotate(0.05)" font-size="4.70" text-anchor="middle" fill="#f4f0fa" stroke="#f4f0fa" stroke-width="0.17">0.27</text>
<text transform="translate(219.80 16.99) rotate(0.05)" font-size="5.55" text-anchor="end" fill="#262626" stroke="#262626" stroke-width="0.23">Average</text>
<text transform="translate(219.80 28.22) rotate(0.05)" font-size="5.55" text-anchor="end" fill="#262626" stroke="#262626" stroke-width="0.23">Random</text>
<text transform="translate(219.80 39.44) rotate(0.05)" font-size="5.55" text-anchor="end" fill="#262626" stroke="#262626" stroke-width="0.23">Segment</text>
<text transform="translate(219.80 50.66) rotate(0.05)" font-size="5.55" text-anchor="end" fill="#262626" stroke="#262626" stroke-width="0.23">Bandwagon</text>
<text transform="translate(219.80 61.88) rotate(0.05)" font-size="5.55" text-anchor="end" fill="#262626" stroke="#262626" stroke-width="0.23">DIFshilling</text>
<text transform="translate(219.80 73.10) rotate(0.05)" font-size="5.55" text-anchor="end" fill="#262626" stroke="#262626" stroke-width="0.23">AIA</text>
<text transform="translate(219.80 84.33) rotate(0.05)" font-size="5.55" text-anchor="end" fill="#262626" stroke="#262626" stroke-width="0.23">DCGAN</text>
<text transform="translate(219.80 95.55) rotate(0.05)" font-size="5.55" text-anchor="end" fill="#262626" stroke="#262626" stroke-width="0.23">AUSH</text>
<text transform="translate(219.80 106.77) rotate(0.05)" font-size="5.55" text-anchor="end" fill="#262626" stroke="#262626" stroke-width="0.23">Leg-UP</text>
<text transform="translate(227.14 112.50) rotate(-45)" font-size="5.60" text-anchor="end" fill="#262626" stroke="#262626" stroke-width="0.23" dy="4.03">BPR</text>
<text transform="translate(245.01 112.50) rotate(-45)" font-size="5.60" text-anchor="end" fill="#262626" stroke="#262626" stroke-width="0.23" dy="4.03">DGCF</text>
<text transform="translate(262.88 112.50) rotate(-45)" font-size="5.60" text-anchor="end" fill="#262626" stroke="#262626" stroke-width="0.23" dy="4.03">DMF</text>
<text transform="translate(280.75 112.50) rotate(-45)" font-size="5.60" text-anchor="end" fill="#262626" stroke="#262626" stroke-width="0.23" dy="4.03">GCMC</text>
<text transform="translate(298.62 112.50) rotate(-45)" font-size="5.60" text-anchor="end" fill="#262626" stroke="#262626" stroke-width="0.23" dy="4.03">NCL</text>
<text transform="translate(316.49 112.50) rotate(-45)" font-size="5.60" text-anchor="end" fill="#262626" stroke="#262626" stroke-width="0.23" dy="4.03">NeuMF</text>
<text transform="translate(334.36 112.50) rotate(-45)" font-size="5.60" text-anchor="end" fill="#262626" stroke="#262626" stroke-width="0.23" dy="4.03">NGCF</text>
<text transform="translate(284.25 7.65) rotate(0.05)" font-size="6.45" text-anchor="middle" fill="#262626" stroke="#262626" stroke-width="0.23">FilmTrust (%)</text>
<rect x="354.50" y="9.50" width="5.00" height="101.00" fill="url(#vg)"/>
<path d="M359.50 110.50h0.9" stroke="#555" stroke-width="0.3"/>
<text transform="translate(361.40 111.36) rotate(0.05)" font-size="2.40" text-anchor="start" fill="#262626" stroke="#262626" stroke-width="0.08">0</text>
<path d="M359.50 93.67h0.9" stroke="#555" stroke-width="0.3"/>
<text transform="translate(361.40 94.53) rotate(0.05)" font-size="2.40" text-anchor="start" fill="#262626" stroke="#262626" stroke-width="0.08">10</text>
<path d="M359.50 76.83h0.9" stroke="#555" stroke-width="0.3"/>
<text transform="translate(361.40 77.70) rotate(0.05)" font-size="2.40" text-anchor="start" fill="#262626" stroke="#262626" stroke-width="0.08">20</text>
<path d="M359.50 60.00h0.9" stroke="#555" stroke-width="0.3"/>
<text transform="translate(361.40 60.86) rotate(0.05)" font-size="2.40" text-anchor="start" fill="#262626" stroke="#262626" stroke-width="0.08">30</text>
<path d="M359.50 43.17h0.9" stroke="#555" stroke-width="0.3"/>
<text transform="translate(361.40 44.03) rotate(0.05)" font-size="2.40" text-anchor="start" fill="#262626" stroke="#262626" stroke-width="0.08">40</text>
<path d="M359.50 26.33h0.9" stroke="#555" stroke-width="0.3"/>
<text transform="translate(361.40 27.20) rotate(0.05)" font-size="2.40" text-anchor="start" fill="#262626" stroke="#262626" stroke-width="0.08">50</text>
<path d="M359.50 9.50h0.9" stroke="#555" stroke-width="0.3"/>
<text transform="translate(361.40 10.36) rotate(0.05)" font-size="2.40" text-anchor="start" fill="#262626" stroke="#262626" stroke-width="0.08">60</text>
</g>
<text transform="translate(213.40 145.20) rotate(0.03)" font-family="Liberation Serif, DejaVu Serif, serif" font-size="9.45" textLength="123.90" lengthAdjust="spacing" fill="#1c1c1c" stroke="#1c1c1c" stroke-width="0.14">(<tspan font-weight="bold">b</tspan>) The heatmap in FilmTrust.</text>
<g font-family="DejaVu Sans, Liberation Sans, sans-serif">
<rect x="405.00" y="9.50" width="17.91" height="11.27" fill="#4b2080"/>
<rect x="422.86" y="9.50" width="17.91" height="11.27" fill="#4a1771"/>
<rect x="440.71" y="9.50" width="17.91" height="11.27" fill="#49156b"/>
<rect x="458.57" y="9.50" width="17.91" height="11.27" fill="#4a1975"/>
<rect x="476.43" y="9.50" width="17.91" height="11.27" fill="#4b2687"/>
<rect x="494.29" y="9.50" width="17.91" height="11.27" fill="#49156c"/>
<rect x="512.14" y="9.50" width="17.86" height="11.27" fill="#4b1b78"/>
<rect x="405.00" y="20.72" width="17.91" height="11.27" fill="#4b1b78"/>
<rect x="422.86" y="20.72" width="17.91" height="11.27" fill="#4a1771"/>
<rect x="440.71" y="20.72" width="17.91" height="11.27" fill="#49156b"/>
<rect x="458.57" y="20.72" width="17.91" height="11.27" fill="#49156c"/>
<rect x="476.43" y="20.72" width="17.91" height="11.27" fill="#4b1b78"/>
<rect x="494.29" y="20.72" width="17.91" height="11.27" fill="#4a166f"/>
<rect x="512.14" y="20.72" width="17.86" height="11.27" fill="#4b1d7a"/>
<rect x="405.00" y="31.94" width="17.91" height="11.27" fill="#4b1d7a"/>
<rect x="422.86" y="31.94" width="17.91" height="11.27" fill="#4b1b78"/>
<rect x="440.71" y="31.94" width="17.91" height="11.27" fill="#49156b"/>
<rect x="458.57" y="31.94" width="17.91" height="11.27" fill="#4a2a8c"/>
<rect x="476.43" y="31.94" width="17.91" height="11.27" fill="#4a298b"/>
<rect x="494.29" y="31.94" width="17.91" height="11.27" fill="#49156e"/>
<rect x="512.14" y="31.94" width="17.86" height="11.27" fill="#4b1f7e"/>
<rect x="405.00" y="43.17" width="17.91" height="11.27" fill="#4b1d7a"/>
<rect x="422.86" y="43.17" width="17.91" height="11.27" fill="#4a1873"/>
<rect x="440.71" y="43.17" width="17.91" height="11.27" fill="#49156b"/>
<rect x="458.57" y="43.17" width="17.91" height="11.27" fill="#453897"/>
<rect x="476.43" y="43.17" width="17.91" height="11.27" fill="#4a288a"/>
<rect x="494.29" y="43.17" width="17.91" height="11.27" fill="#4a1772"/>
<rect x="512.14" y="43.17" width="17.86" height="11.27" fill="#4b1e7c"/>
<rect x="405.00" y="54.39" width="17.91" height="11.27" fill="#257196"/>
<rect x="422.86" y="54.39" width="17.91" height="11.27" fill="#266597"/>
<rect x="440.71" y="54.39" width="17.91" height="11.27" fill="#5cc864"/>
<rect x="458.57" y="54.39" width="17.91" height="11.27" fill="#fde725"/>
<rect x="476.43" y="54.39" width="17.91" height="11.27" fill="#256b96"/>
<rect x="494.29" y="54.39" width="17.91" height="11.27" fill="#266697"/>
<rect x="512.14" y="54.39" width="17.86" height="11.27" fill="#3e439a"/>
<rect x="405.00" y="65.61" width="17.91" height="11.27" fill="#4a1a76"/>
<rect x="422.86" y="65.61" width="17.91" height="11.27" fill="#4a1975"/>
<rect x="440.71" y="65.61" width="17.91" height="11.27" fill="#49156b"/>
<rect x="458.57" y="65.61" width="17.91" height="11.27" fill="#473394"/>
<rect x="476.43" y="65.61" width="17.91" height="11.27" fill="#4b2282"/>
<rect x="494.29" y="65.61" width="17.91" height="11.27" fill="#4a1872"/>
<rect x="512.14" y="65.61" width="17.86" height="11.27" fill="#4b1f7e"/>
<rect x="405.00" y="76.83" width="17.91" height="11.27" fill="#4b1d7a"/>
<rect x="422.86" y="76.83" width="17.91" height="11.27" fill="#4a1a76"/>
<rect x="440.71" y="76.83" width="17.91" height="11.27" fill="#49156b"/>
<rect x="458.57" y="76.83" width="17.91" height="11.27" fill="#483294"/>
<rect x="476.43" y="76.83" width="17.91" height="11.27" fill="#4b1d7a"/>
<rect x="494.29" y="76.83" width="17.91" height="11.27" fill="#4a1771"/>
<rect x="512.14" y="76.83" width="17.86" height="11.27" fill="#4b2282"/>
<rect x="405.00" y="88.06" width="17.91" height="11.27" fill="#463696"/>
<rect x="422.86" y="88.06" width="17.91" height="11.27" fill="#3b479a"/>
<rect x="440.71" y="88.06" width="17.91" height="11.27" fill="#efe51c"/>
<rect x="458.57" y="88.06" width="17.91" height="11.27" fill="#374b9a"/>
<rect x="476.43" y="88.06" width="17.91" height="11.27" fill="#3b479a"/>
<rect x="494.29" y="88.06" width="17.91" height="11.27" fill="#492e90"/>
<rect x="512.14" y="88.06" width="17.86" height="11.27" fill="#4a288a"/>
<rect x="405.00" y="99.28" width="17.91" height="11.22" fill="#453998"/>
<rect x="422.86" y="99.28" width="17.91" height="11.22" fill="#3c469a"/>
<rect x="440.71" y="99.28" width="17.91" height="11.22" fill="#49156b"/>
<rect x="458.57" y="99.28" width="17.91" height="11.22" fill="#a2da37"/>
<rect x="476.43" y="99.28" width="17.91" height="11.22" fill="#3b479a"/>
<rect x="494.29" y="99.28" width="17.91" height="11.22" fill="#4a2b8d"/>
<rect x="512.14" y="99.28" width="17.86" height="11.22" fill="#4a2c8e"/>
<path d="M422.86 9.50V110.50M440.71 9.50V110.50M458.57 9.50V110.50M476.43 9.50V110.50M494.29 9.50V110.50M512.14 9.50V110.50M405.00 20.72H530.00M405.00 31.94H530.00M405.00 43.17H530.00M405.00 54.39H530.00M405.00 65.61H530.00M405.00 76.83H530.00M405.00 88.06H530.00M405.00 99.28H530.00" stroke="#fff" stroke-width="0.30" stroke-opacity="0.16" fill="none"/>
<rect x="405.21" y="54.60" width="17.44" height="10.80" fill="none" stroke="#f01a1a" stroke-width="0.62"/>
<rect x="423.07" y="54.60" width="17.44" height="10.80" fill="none" stroke="#f01a1a" stroke-width="0.62"/>
<rect x="440.92" y="54.60" width="17.44" height="10.80" fill="none" stroke="#f01a1a" stroke-width="0.62"/>
<rect x="458.78" y="54.60" width="17.44" height="10.80" fill="none" stroke="#f01a1a" stroke-width="0.62"/>
<rect x="476.64" y="54.60" width="17.44" height="10.80" fill="none" stroke="#f01a1a" stroke-width="0.62"/>
<rect x="494.50" y="54.60" width="17.44" height="10.80" fill="none" stroke="#f01a1a" stroke-width="0.62"/>
<rect x="512.35" y="54.60" width="17.44" height="10.80" fill="none" stroke="#f01a1a" stroke-width="0.62"/>
<text transform="translate(413.93 16.71) rotate(0.05)" font-size="4.70" text-anchor="middle" fill="#f4f0fa" stroke="#f4f0fa" stroke-width="0.17">1.6</text>
<text transform="translate(431.79 16.71) rotate(0.05)" font-size="4.70" text-anchor="middle" fill="#f4f0fa" stroke="#f4f0fa" stroke-width="0.17">0.48</text>
<text transform="translate(449.64 16.71) rotate(0.05)" font-size="4.70" text-anchor="middle" fill="#f4f0fa" stroke="#f4f0fa" stroke-width="0.17">0.068</text>
<text transform="translate(467.50 16.71) rotate(0.05)" font-size="4.70" text-anchor="middle" fill="#f4f0fa" stroke="#f4f0fa" stroke-width="0.17">0.75</text>
<text transform="translate(485.36 16.71) rotate(0.05)" font-size="4.70" text-anchor="middle" fill="#f4f0fa" stroke="#f4f0fa" stroke-width="0.17">2.2</text>
<text transform="translate(503.21 16.71) rotate(0.05)" font-size="4.70" text-anchor="middle" fill="#f4f0fa" stroke="#f4f0fa" stroke-width="0.17">0.2</text>
<text transform="translate(521.07 16.71) rotate(0.05)" font-size="4.70" text-anchor="middle" fill="#f4f0fa" stroke="#f4f0fa" stroke-width="0.17">1</text>
<text transform="translate(413.93 27.93) rotate(0.05)" font-size="4.70" text-anchor="middle" fill="#f4f0fa" stroke="#f4f0fa" stroke-width="0.17">1</text>
<text transform="translate(431.79 27.93) rotate(0.05)" font-size="4.70" text-anchor="middle" fill="#f4f0fa" stroke="#f4f0fa" stroke-width="0.17">0.48</text>
<text transform="translate(449.64 27.93) rotate(0.05)" font-size="4.70" text-anchor="middle" fill="#f4f0fa" stroke="#f4f0fa" stroke-width="0.17">0.068</text>
<text transform="translate(467.50 27.93) rotate(0.05)" font-size="4.70" text-anchor="middle" fill="#f4f0fa" stroke="#f4f0fa" stroke-width="0.17">0.14</text>
<text transform="translate(485.36 27.93) rotate(0.05)" font-size="4.70" text-anchor="middle" fill="#f4f0fa" stroke="#f4f0fa" stroke-width="0.17">1</text>
<text transform="translate(503.21 27.93) rotate(0.05)" font-size="4.70" text-anchor="middle" fill="#f4f0fa" stroke="#f4f0fa" stroke-width="0.17">0.34</text>
<text transform="translate(521.07 27.93) rotate(0.05)" font-size="4.70" text-anchor="middle" fill="#f4f0fa" stroke="#f4f0fa" stroke-width="0.17">1.2</text>
<text transform="translate(413.93 39.15) rotate(0.05)" font-size="4.70" text-anchor="middle" fill="#f4f0fa" stroke="#f4f0fa" stroke-width="0.17">1.2</text>
<text transform="translate(431.79 39.15) rotate(0.05)" font-size="4.70" text-anchor="middle" fill="#f4f0fa" stroke="#f4f0fa" stroke-width="0.17">0.95</text>
<text transform="translate(449.64 39.15) rotate(0.05)" font-size="4.70" text-anchor="middle" fill="#f4f0fa" stroke="#f4f0fa" stroke-width="0.17">0</text>
<text transform="translate(467.50 39.15) rotate(0.05)" font-size="4.70" text-anchor="middle" fill="#f4f0fa" stroke="#f4f0fa" stroke-width="0.17">2.7</text>
<text transform="translate(485.36 39.15) rotate(0.05)" font-size="4.70" text-anchor="middle" fill="#f4f0fa" stroke="#f4f0fa" stroke-width="0.17">2.6</text>
<text transform="translate(503.21 39.15) rotate(0.05)" font-size="4.70" text-anchor="middle" fill="#f4f0fa" stroke="#f4f0fa" stroke-width="0.17">0.27</text>
<text transform="translate(521.07 39.15) rotate(0.05)" font-size="4.70" text-anchor="middle" fill="#f4f0fa" stroke="#f4f0fa" stroke-width="0.17">1.5</text>
<text transform="translate(413.93 50.37) rotate(0.05)" font-size="4.70" text-anchor="middle" fill="#f4f0fa" stroke="#f4f0fa" stroke-width="0.17">1.2</text>
<text transform="translate(431.79 50.37) rotate(0.05)" font-size="4.70" text-anchor="middle" fill="#f4f0fa" stroke="#f4f0fa" stroke-width="0.17">0.68</text>
<text transform="translate(449.64 50.37) rotate(0.05)" font-size="4.70" text-anchor="middle" fill="#f4f0fa" stroke="#f4f0fa" stroke-width="0.17">0</text>
<text transform="translate(467.50 50.37) rotate(0.05)" font-size="4.70" text-anchor="middle" fill="#f4f0fa" stroke="#f4f0fa" stroke-width="0.17">4.1</text>
<text transform="translate(485.36 50.37) rotate(0.05)" font-size="4.70" text-anchor="middle" fill="#f4f0fa" stroke="#f4f0fa" stroke-width="0.17">2.4</text>
<text transform="translate(503.21 50.37) rotate(0.05)" font-size="4.70" text-anchor="middle" fill="#f4f0fa" stroke="#f4f0fa" stroke-width="0.17">0.61</text>
<text transform="translate(521.07 50.37) rotate(0.05)" font-size="4.70" text-anchor="middle" fill="#f4f0fa" stroke="#f4f0fa" stroke-width="0.17">1.3</text>
<text transform="translate(413.93 61.60) rotate(0.05)" font-size="4.70" text-anchor="middle" fill="#f4f0fa" stroke="#f4f0fa" stroke-width="0.17">9.9</text>
<text transform="translate(431.79 61.60) rotate(0.05)" font-size="4.70" text-anchor="middle" fill="#f4f0fa" stroke="#f4f0fa" stroke-width="0.17">8.6</text>
<text transform="translate(449.64 61.60) rotate(0.05)" font-size="4.70" text-anchor="middle" fill="#444444" stroke="#444444" stroke-width="0.05">20</text>
<text transform="translate(467.50 61.60) rotate(0.05)" font-size="4.70" text-anchor="middle" fill="#444444" stroke="#444444" stroke-width="0.05">27</text>
<text transform="translate(485.36 61.60) rotate(0.05)" font-size="4.70" text-anchor="middle" fill="#f4f0fa" stroke="#f4f0fa" stroke-width="0.17">9.2</text>
<text transform="translate(503.21 61.60) rotate(0.05)" font-size="4.70" text-anchor="middle" fill="#f4f0fa" stroke="#f4f0fa" stroke-width="0.17">8.7</text>
<text transform="translate(521.07 61.60) rotate(0.05)" font-size="4.70" text-anchor="middle" fill="#f4f0fa" stroke="#f4f0fa" stroke-width="0.17">5.2</text>
<text transform="translate(413.93 72.82) rotate(0.05)" font-size="4.70" text-anchor="middle" fill="#f4f0fa" stroke="#f4f0fa" stroke-width="0.17">0.88</text>
<text transform="translate(431.79 72.82) rotate(0.05)" font-size="4.70" text-anchor="middle" fill="#f4f0fa" stroke="#f4f0fa" stroke-width="0.17">0.82</text>
<text transform="translate(449.64 72.82) rotate(0.05)" font-size="4.70" text-anchor="middle" fill="#f4f0fa" stroke="#f4f0fa" stroke-width="0.17">0</text>
<text transform="translate(467.50 72.82) rotate(0.05)" font-size="4.70" text-anchor="middle" fill="#f4f0fa" stroke="#f4f0fa" stroke-width="0.17">3.6</text>
<text transform="translate(485.36 72.82) rotate(0.05)" font-size="4.70" text-anchor="middle" fill="#f4f0fa" stroke="#f4f0fa" stroke-width="0.17">1.8</text>
<text transform="translate(503.21 72.82) rotate(0.05)" font-size="4.70" text-anchor="middle" fill="#f4f0fa" stroke="#f4f0fa" stroke-width="0.17">0.54</text>
<text transform="translate(521.07 72.82) rotate(0.05)" font-size="4.70" text-anchor="middle" fill="#f4f0fa" stroke="#f4f0fa" stroke-width="0.17">1.5</text>
<text transform="translate(413.93 84.04) rotate(0.05)" font-size="4.70" text-anchor="middle" fill="#f4f0fa" stroke="#f4f0fa" stroke-width="0.17">1.2</text>
<text transform="translate(431.79 84.04) rotate(0.05)" font-size="4.70" text-anchor="middle" fill="#f4f0fa" stroke="#f4f0fa" stroke-width="0.17">0.88</text>
<text transform="translate(449.64 84.04) rotate(0.05)" font-size="4.70" text-anchor="middle" fill="#f4f0fa" stroke="#f4f0fa" stroke-width="0.17">0</text>
<text transform="translate(467.50 84.04) rotate(0.05)" font-size="4.70" text-anchor="middle" fill="#f4f0fa" stroke="#f4f0fa" stroke-width="0.17">3.5</text>
<text transform="translate(485.36 84.04) rotate(0.05)" font-size="4.70" text-anchor="middle" fill="#f4f0fa" stroke="#f4f0fa" stroke-width="0.17">1.2</text>
<text transform="translate(503.21 84.04) rotate(0.05)" font-size="4.70" text-anchor="middle" fill="#f4f0fa" stroke="#f4f0fa" stroke-width="0.17">0.48</text>
<text transform="translate(521.07 84.04) rotate(0.05)" font-size="4.70" text-anchor="middle" fill="#f4f0fa" stroke="#f4f0fa" stroke-width="0.17">1.8</text>
<text transform="translate(413.93 95.26) rotate(0.05)" font-size="4.70" text-anchor="middle" fill="#f4f0fa" stroke="#f4f0fa" stroke-width="0.17">3.9</text>
<text transform="translate(431.79 95.26) rotate(0.05)" font-size="4.70" text-anchor="middle" fill="#f4f0fa" stroke="#f4f0fa" stroke-width="0.17">5.6</text>
<text transform="translate(449.64 95.26) rotate(0.05)" font-size="4.70" text-anchor="middle" fill="#444444" stroke="#444444" stroke-width="0.05">26</text>
<text transform="translate(467.50 95.26) rotate(0.05)" font-size="4.70" text-anchor="middle" fill="#f4f0fa" stroke="#f4f0fa" stroke-width="0.17">6</text>
<text transform="translate(485.36 95.26) rotate(0.05)" font-size="4.70" text-anchor="middle" fill="#f4f0fa" stroke="#f4f0fa" stroke-width="0.17">5.6</text>
<text transform="translate(503.21 95.26) rotate(0.05)" font-size="4.70" text-anchor="middle" fill="#f4f0fa" stroke="#f4f0fa" stroke-width="0.17">3.1</text>
<text transform="translate(521.07 95.26) rotate(0.05)" font-size="4.70" text-anchor="middle" fill="#f4f0fa" stroke="#f4f0fa" stroke-width="0.17">2.4</text>
<text transform="translate(413.93 106.49) rotate(0.05)" font-size="4.70" text-anchor="middle" fill="#f4f0fa" stroke="#f4f0fa" stroke-width="0.17">4.2</text>
<text transform="translate(431.79 106.49) rotate(0.05)" font-size="4.70" text-anchor="middle" fill="#f4f0fa" stroke="#f4f0fa" stroke-width="0.17">5.5</text>
<text transform="translate(449.64 106.49) rotate(0.05)" font-size="4.70" text-anchor="middle" fill="#f4f0fa" stroke="#f4f0fa" stroke-width="0.17">0</text>
<text transform="translate(467.50 106.49) rotate(0.05)" font-size="4.70" text-anchor="middle" fill="#444444" stroke="#444444" stroke-width="0.05">23</text>
<text transform="translate(485.36 106.49) rotate(0.05)" font-size="4.70" text-anchor="middle" fill="#f4f0fa" stroke="#f4f0fa" stroke-width="0.17">5.6</text>
<text transform="translate(503.21 106.49) rotate(0.05)" font-size="4.70" text-anchor="middle" fill="#f4f0fa" stroke="#f4f0fa" stroke-width="0.17">2.8</text>
<text transform="translate(521.07 106.49) rotate(0.05)" font-size="4.70" text-anchor="middle" fill="#f4f0fa" stroke="#f4f0fa" stroke-width="0.17">2.9</text>
<text transform="translate(403.40 16.99) rotate(0.05)" font-size="5.55" text-anchor="end" fill="#262626" stroke="#262626" stroke-width="0.23">Average</text>
<text transform="translate(403.40 28.22) rotate(0.05)" font-size="5.55" text-anchor="end" fill="#262626" stroke="#262626" stroke-width="0.23">Random</text>
<text transform="translate(403.40 39.44) rotate(0.05)" font-size="5.55" text-anchor="end" fill="#262626" stroke="#262626" stroke-width="0.23">Segment</text>
<text transform="translate(403.40 50.66) rotate(0.05)" font-size="5.55" text-anchor="end" fill="#262626" stroke="#262626" stroke-width="0.23">Bandwagon</text>
<text transform="translate(403.40 61.88) rotate(0.05)" font-size="5.55" text-anchor="end" fill="#262626" stroke="#262626" stroke-width="0.23">DIFshilling</text>
<text transform="translate(403.40 73.10) rotate(0.05)" font-size="5.55" text-anchor="end" fill="#262626" stroke="#262626" stroke-width="0.23">AIA</text>
<text transform="translate(403.40 84.33) rotate(0.05)" font-size="5.55" text-anchor="end" fill="#262626" stroke="#262626" stroke-width="0.23">DCGAN</text>
<text transform="translate(403.40 95.55) rotate(0.05)" font-size="5.55" text-anchor="end" fill="#262626" stroke="#262626" stroke-width="0.23">AUSH</text>
<text transform="translate(403.40 106.77) rotate(0.05)" font-size="5.55" text-anchor="end" fill="#262626" stroke="#262626" stroke-width="0.23">Leg-UP</text>
<text transform="translate(410.73 112.50) rotate(-45)" font-size="5.60" text-anchor="end" fill="#262626" stroke="#262626" stroke-width="0.23" dy="4.03">BPR</text>
<text transform="translate(428.59 112.50) rotate(-45)" font-size="5.60" text-anchor="end" fill="#262626" stroke="#262626" stroke-width="0.23" dy="4.03">DGCF</text>
<text transform="translate(446.44 112.50) rotate(-45)" font-size="5.60" text-anchor="end" fill="#262626" stroke="#262626" stroke-width="0.23" dy="4.03">DMF</text>
<text transform="translate(464.30 112.50) rotate(-45)" font-size="5.60" text-anchor="end" fill="#262626" stroke="#262626" stroke-width="0.23" dy="4.03">GCMC</text>
<text transform="translate(482.16 112.50) rotate(-45)" font-size="5.60" text-anchor="end" fill="#262626" stroke="#262626" stroke-width="0.23" dy="4.03">NCL</text>
<text transform="translate(500.01 112.50) rotate(-45)" font-size="5.60" text-anchor="end" fill="#262626" stroke="#262626" stroke-width="0.23" dy="4.03">NeuMF</text>
<text transform="translate(517.87 112.50) rotate(-45)" font-size="5.60" text-anchor="end" fill="#262626" stroke="#262626" stroke-width="0.23" dy="4.03">NGCF</text>
<text transform="translate(467.80 7.65) rotate(0.05)" font-size="6.45" text-anchor="middle" fill="#262626" stroke="#262626" stroke-width="0.23">Automotive (%)</text>
<rect x="538.00" y="9.50" width="5.00" height="101.00" fill="url(#vg)"/>
<path d="M543.00 110.50h0.9" stroke="#555" stroke-width="0.3"/>
<text transform="translate(544.90 111.36) rotate(0.05)" font-size="2.40" text-anchor="start" fill="#262626" stroke="#262626" stroke-width="0.08">0</text>
<path d="M543.00 91.59h0.9" stroke="#555" stroke-width="0.3"/>
<text transform="translate(544.90 92.45) rotate(0.05)" font-size="2.40" text-anchor="start" fill="#262626" stroke="#262626" stroke-width="0.08">5</text>
<path d="M543.00 72.67h0.9" stroke="#555" stroke-width="0.3"/>
<text transform="translate(544.90 73.54) rotate(0.05)" font-size="2.40" text-anchor="start" fill="#262626" stroke="#262626" stroke-width="0.08">10</text>
<path d="M543.00 53.76h0.9" stroke="#555" stroke-width="0.3"/>
<text transform="translate(544.90 54.62) rotate(0.05)" font-size="2.40" text-anchor="start" fill="#262626" stroke="#262626" stroke-width="0.08">15</text>
<path d="M543.00 34.84h0.9" stroke="#555" stroke-width="0.3"/>
<text transform="translate(544.90 35.71) rotate(0.05)" font-size="2.40" text-anchor="start" fill="#262626" stroke="#262626" stroke-width="0.08">20</text>
<path d="M543.00 15.93h0.9" stroke="#555" stroke-width="0.3"/>
<text transform="translate(544.90 16.79) rotate(0.05)" font-size="2.40" text-anchor="start" fill="#262626" stroke="#262626" stroke-width="0.08">25</text>
</g>
<text transform="translate(392.60 145.20) rotate(0.03)" font-family="Liberation Serif, DejaVu Serif, serif" font-size="9.45" textLength="131.80" lengthAdjust="spacing" fill="#1c1c1c" stroke="#1c1c1c" stroke-width="0.14">(<tspan font-weight="bold">c</tspan>) The heatmap in Automotive.</text>
<g font-family="DejaVu Sans, Liberation Sans, sans-serif">
<rect x="101.80" y="168.80" width="17.82" height="11.24" fill="#463797"/>
<rect x="119.57" y="168.80" width="17.82" height="11.24" fill="#4a2a8c"/>
<rect x="137.34" y="168.80" width="17.82" height="11.24" fill="#49156b"/>
<rect x="155.11" y="168.80" width="17.82" height="11.24" fill="#49156b"/>
<rect x="172.89" y="168.80" width="17.82" height="11.24" fill="#4b1e7c"/>
<rect x="190.66" y="168.80" width="17.82" height="11.24" fill="#4b1e7c"/>
<rect x="208.43" y="168.80" width="17.77" height="11.24" fill="#4a2a8c"/>
<rect x="101.80" y="179.99" width="17.82" height="11.24" fill="#4a2a8c"/>
<rect x="119.57" y="179.99" width="17.82" height="11.24" fill="#49156b"/>
<rect x="137.34" y="179.99" width="17.82" height="11.24" fill="#49156b"/>
<rect x="155.11" y="179.99" width="17.82" height="11.24" fill="#49156b"/>
<rect x="172.89" y="179.99" width="17.82" height="11.24" fill="#49156b"/>
<rect x="190.66" y="179.99" width="17.82" height="11.24" fill="#4b1e7c"/>
<rect x="208.43" y="179.99" width="17.77" height="11.24" fill="#463797"/>
<rect x="101.80" y="191.18" width="17.82" height="11.24" fill="#463797"/>
<rect x="119.57" y="191.18" width="17.82" height="11.24" fill="#4b1e7c"/>
<rect x="137.34" y="191.18" width="17.82" height="11.24" fill="#49156b"/>
<rect x="155.11" y="191.18" width="17.82" height="11.24" fill="#4b1e7c"/>
<rect x="172.89" y="191.18" width="17.82" height="11.24" fill="#4b1e7c"/>
<rect x="190.66" y="191.18" width="17.82" height="11.24" fill="#4b1e7c"/>
<rect x="208.43" y="191.18" width="17.77" height="11.24" fill="#463797"/>
<rect x="101.80" y="202.37" width="17.82" height="11.24" fill="#4b1e7c"/>
<rect x="119.57" y="202.37" width="17.82" height="11.24" fill="#4b1e7c"/>
<rect x="137.34" y="202.37" width="17.82" height="11.24" fill="#49156b"/>
<rect x="155.11" y="202.37" width="17.82" height="11.24" fill="#4b1e7c"/>
<rect x="172.89" y="202.37" width="17.82" height="11.24" fill="#4b1e7c"/>
<rect x="190.66" y="202.37" width="17.82" height="11.24" fill="#4a2a8c"/>
<rect x="208.43" y="202.37" width="17.77" height="11.24" fill="#3e449a"/>
<rect x="101.80" y="213.56" width="17.82" height="11.24" fill="#fde725"/>
<rect x="119.57" y="213.56" width="17.82" height="11.24" fill="#257695"/>
<rect x="137.34" y="213.56" width="17.82" height="11.24" fill="#463797"/>
<rect x="155.11" y="213.56" width="17.82" height="11.24" fill="#4b1e7c"/>
<rect x="172.89" y="213.56" width="17.82" height="11.24" fill="#286097"/>
<rect x="190.66" y="213.56" width="17.82" height="11.24" fill="#5cc864"/>
<rect x="208.43" y="213.56" width="17.77" height="11.24" fill="#42be73"/>
<rect x="101.80" y="224.74" width="17.82" height="11.24" fill="#257695"/>
<rect x="119.57" y="224.74" width="17.82" height="11.24" fill="#4a2a8c"/>
<rect x="137.34" y="224.74" width="17.82" height="11.24" fill="#49156b"/>
<rect x="155.11" y="224.74" width="17.82" height="11.24" fill="#49156b"/>
<rect x="172.89" y="224.74" width="17.82" height="11.24" fill="#49156b"/>
<rect x="190.66" y="224.74" width="17.82" height="11.24" fill="#49156b"/>
<rect x="208.43" y="224.74" width="17.77" height="11.24" fill="#3e449a"/>
<rect x="101.80" y="235.93" width="17.82" height="11.24" fill="#463797"/>
<rect x="119.57" y="235.93" width="17.82" height="11.24" fill="#4b1e7c"/>
<rect x="137.34" y="235.93" width="17.82" height="11.24" fill="#49156b"/>
<rect x="155.11" y="235.93" width="17.82" height="11.24" fill="#4b207e"/>
<rect x="172.89" y="235.93" width="17.82" height="11.24" fill="#4b1e7c"/>
<rect x="190.66" y="235.93" width="17.82" height="11.24" fill="#49156b"/>
<rect x="208.43" y="235.93" width="17.77" height="11.24" fill="#4a2a8c"/>
<rect x="101.80" y="247.12" width="17.82" height="11.24" fill="#4a2a8c"/>
<rect x="119.57" y="247.12" width="17.82" height="11.24" fill="#4b1e7c"/>
<rect x="137.34" y="247.12" width="17.82" height="11.24" fill="#49156b"/>
<rect x="155.11" y="247.12" width="17.82" height="11.24" fill="#4b1c79"/>
<rect x="172.89" y="247.12" width="17.82" height="11.24" fill="#4b1e7c"/>
<rect x="190.66" y="247.12" width="17.82" height="11.24" fill="#463797"/>
<rect x="208.43" y="247.12" width="17.77" height="11.24" fill="#24aa85"/>
<rect x="101.80" y="258.31" width="17.82" height="11.19" fill="#463797"/>
<rect x="119.57" y="258.31" width="17.82" height="11.19" fill="#4a2a8c"/>
<rect x="137.34" y="258.31" width="17.82" height="11.19" fill="#49156b"/>
<rect x="155.11" y="258.31" width="17.82" height="11.19" fill="#4b1e7c"/>
<rect x="172.89" y="258.31" width="17.82" height="11.19" fill="#4b1e7c"/>
<rect x="190.66" y="258.31" width="17.82" height="11.19" fill="#49156b"/>
<rect x="208.43" y="258.31" width="17.77" height="11.19" fill="#49156b"/>
<path d="M119.57 168.80V269.50M137.34 168.80V269.50M155.11 168.80V269.50M172.89 168.80V269.50M190.66 168.80V269.50M208.43 168.80V269.50M101.80 179.99H226.20M101.80 191.18H226.20M101.80 202.37H226.20M101.80 213.56H226.20M101.80 224.74H226.20M101.80 235.93H226.20M101.80 247.12H226.20M101.80 258.31H226.20" stroke="#fff" stroke-width="0.30" stroke-opacity="0.16" fill="none"/>
<rect x="102.01" y="213.77" width="17.35" height="10.77" fill="none" stroke="#f01a1a" stroke-width="0.62"/>
<rect x="119.78" y="213.77" width="17.35" height="10.77" fill="none" stroke="#f01a1a" stroke-width="0.62"/>
<rect x="137.55" y="213.77" width="17.35" height="10.77" fill="none" stroke="#f01a1a" stroke-width="0.62"/>
<rect x="155.32" y="213.77" width="17.35" height="10.77" fill="none" stroke="#f01a1a" stroke-width="0.62"/>
<rect x="173.10" y="213.77" width="17.35" height="10.77" fill="none" stroke="#f01a1a" stroke-width="0.62"/>
<rect x="190.87" y="213.77" width="17.35" height="10.77" fill="none" stroke="#f01a1a" stroke-width="0.62"/>
<rect x="208.64" y="213.77" width="17.35" height="10.77" fill="none" stroke="#f01a1a" stroke-width="0.62"/>
<text transform="translate(110.69 175.98) rotate(0.05)" font-size="4.67" text-anchor="middle" fill="#f4f0fa" stroke="#f4f0fa" stroke-width="0.17">0.084</text>
<text transform="translate(128.46 175.98) rotate(0.05)" font-size="4.67" text-anchor="middle" fill="#f4f0fa" stroke="#f4f0fa" stroke-width="0.17">0.056</text>
<text transform="translate(146.23 175.98) rotate(0.05)" font-size="4.67" text-anchor="middle" fill="#f4f0fa" stroke="#f4f0fa" stroke-width="0.17">0</text>
<text transform="translate(164.00 175.98) rotate(0.05)" font-size="4.67" text-anchor="middle" fill="#f4f0fa" stroke="#f4f0fa" stroke-width="0.17">0</text>
<text transform="translate(181.77 175.98) rotate(0.05)" font-size="4.67" text-anchor="middle" fill="#f4f0fa" stroke="#f4f0fa" stroke-width="0.17">0.028</text>
<text transform="translate(199.54 175.98) rotate(0.05)" font-size="4.67" text-anchor="middle" fill="#f4f0fa" stroke="#f4f0fa" stroke-width="0.17">0.028</text>
<text transform="translate(217.31 175.98) rotate(0.05)" font-size="4.67" text-anchor="middle" fill="#f4f0fa" stroke="#f4f0fa" stroke-width="0.17">0.056</text>
<text transform="translate(110.69 187.17) rotate(0.05)" font-size="4.67" text-anchor="middle" fill="#f4f0fa" stroke="#f4f0fa" stroke-width="0.17">0.056</text>
<text transform="translate(128.46 187.17) rotate(0.05)" font-size="4.67" text-anchor="middle" fill="#f4f0fa" stroke="#f4f0fa" stroke-width="0.17">0</text>
<text transform="translate(146.23 187.17) rotate(0.05)" font-size="4.67" text-anchor="middle" fill="#f4f0fa" stroke="#f4f0fa" stroke-width="0.17">0</text>
<text transform="translate(164.00 187.17) rotate(0.05)" font-size="4.67" text-anchor="middle" fill="#f4f0fa" stroke="#f4f0fa" stroke-width="0.17">0</text>
<text transform="translate(181.77 187.17) rotate(0.05)" font-size="4.67" text-anchor="middle" fill="#f4f0fa" stroke="#f4f0fa" stroke-width="0.17">0</text>
<text transform="translate(199.54 187.17) rotate(0.05)" font-size="4.67" text-anchor="middle" fill="#f4f0fa" stroke="#f4f0fa" stroke-width="0.17">0.028</text>
<text transform="translate(217.31 187.17) rotate(0.05)" font-size="4.67" text-anchor="middle" fill="#f4f0fa" stroke="#f4f0fa" stroke-width="0.17">0.084</text>
<text transform="translate(110.69 198.36) rotate(0.05)" font-size="4.67" text-anchor="middle" fill="#f4f0fa" stroke="#f4f0fa" stroke-width="0.17">0.084</text>
<text transform="translate(128.46 198.36) rotate(0.05)" font-size="4.67" text-anchor="middle" fill="#f4f0fa" stroke="#f4f0fa" stroke-width="0.17">0.028</text>
<text transform="translate(146.23 198.36) rotate(0.05)" font-size="4.67" text-anchor="middle" fill="#f4f0fa" stroke="#f4f0fa" stroke-width="0.17">0</text>
<text transform="translate(164.00 198.36) rotate(0.05)" font-size="4.67" text-anchor="middle" fill="#f4f0fa" stroke="#f4f0fa" stroke-width="0.17">0.028</text>
<text transform="translate(181.77 198.36) rotate(0.05)" font-size="4.67" text-anchor="middle" fill="#f4f0fa" stroke="#f4f0fa" stroke-width="0.17">0.028</text>
<text transform="translate(199.54 198.36) rotate(0.05)" font-size="4.67" text-anchor="middle" fill="#f4f0fa" stroke="#f4f0fa" stroke-width="0.17">0.028</text>
<text transform="translate(217.31 198.36) rotate(0.05)" font-size="4.67" text-anchor="middle" fill="#f4f0fa" stroke="#f4f0fa" stroke-width="0.17">0.084</text>
<text transform="translate(110.69 209.55) rotate(0.05)" font-size="4.67" text-anchor="middle" fill="#f4f0fa" stroke="#f4f0fa" stroke-width="0.17">0.028</text>
<text transform="translate(128.46 209.55) rotate(0.05)" font-size="4.67" text-anchor="middle" fill="#f4f0fa" stroke="#f4f0fa" stroke-width="0.17">0.028</text>
<text transform="translate(146.23 209.55) rotate(0.05)" font-size="4.67" text-anchor="middle" fill="#f4f0fa" stroke="#f4f0fa" stroke-width="0.17">0</text>
<text transform="translate(164.00 209.55) rotate(0.05)" font-size="4.67" text-anchor="middle" fill="#f4f0fa" stroke="#f4f0fa" stroke-width="0.17">0.028</text>
<text transform="translate(181.77 209.55) rotate(0.05)" font-size="4.67" text-anchor="middle" fill="#f4f0fa" stroke="#f4f0fa" stroke-width="0.17">0.028</text>
<text transform="translate(199.54 209.55) rotate(0.05)" font-size="4.67" text-anchor="middle" fill="#f4f0fa" stroke="#f4f0fa" stroke-width="0.17">0.056</text>
<text transform="translate(217.31 209.55) rotate(0.05)" font-size="4.67" text-anchor="middle" fill="#f4f0fa" stroke="#f4f0fa" stroke-width="0.17">0.11</text>
<text transform="translate(110.69 220.74) rotate(0.05)" font-size="4.67" text-anchor="middle" fill="#444444" stroke="#444444" stroke-width="0.05">0.56</text>
<text transform="translate(128.46 220.74) rotate(0.05)" font-size="4.67" text-anchor="middle" fill="#f4f0fa" stroke="#f4f0fa" stroke-width="0.17">0.22</text>
<text transform="translate(146.23 220.74) rotate(0.05)" font-size="4.67" text-anchor="middle" fill="#f4f0fa" stroke="#f4f0fa" stroke-width="0.17">0.084</text>
<text transform="translate(164.00 220.74) rotate(0.05)" font-size="4.67" text-anchor="middle" fill="#f4f0fa" stroke="#f4f0fa" stroke-width="0.17">0.028</text>
<text transform="translate(181.77 220.74) rotate(0.05)" font-size="4.67" text-anchor="middle" fill="#f4f0fa" stroke="#f4f0fa" stroke-width="0.17">0.17</text>
<text transform="translate(199.54 220.74) rotate(0.05)" font-size="4.67" text-anchor="middle" fill="#444444" stroke="#444444" stroke-width="0.05">0.42</text>
<text transform="translate(217.31 220.74) rotate(0.05)" font-size="4.67" text-anchor="middle" fill="#f4f0fa" stroke="#f4f0fa" stroke-width="0.17">0.39</text>
<text transform="translate(110.69 231.93) rotate(0.05)" font-size="4.67" text-anchor="middle" fill="#f4f0fa" stroke="#f4f0fa" stroke-width="0.17">0.22</text>
<text transform="translate(128.46 231.93) rotate(0.05)" font-size="4.67" text-anchor="middle" fill="#f4f0fa" stroke="#f4f0fa" stroke-width="0.17">0.056</text>
<text transform="translate(146.23 231.93) rotate(0.05)" font-size="4.67" text-anchor="middle" fill="#f4f0fa" stroke="#f4f0fa" stroke-width="0.17">0</text>
<text transform="translate(164.00 231.93) rotate(0.05)" font-size="4.67" text-anchor="middle" fill="#f4f0fa" stroke="#f4f0fa" stroke-width="0.17">0</text>
<text transform="translate(181.77 231.93) rotate(0.05)" font-size="4.67" text-anchor="middle" fill="#f4f0fa" stroke="#f4f0fa" stroke-width="0.17">0</text>
<text transform="translate(199.54 231.93) rotate(0.05)" font-size="4.67" text-anchor="middle" fill="#f4f0fa" stroke="#f4f0fa" stroke-width="0.17">0</text>
<text transform="translate(217.31 231.93) rotate(0.05)" font-size="4.67" text-anchor="middle" fill="#f4f0fa" stroke="#f4f0fa" stroke-width="0.17">0.11</text>
<text transform="translate(110.69 243.12) rotate(0.05)" font-size="4.67" text-anchor="middle" fill="#f4f0fa" stroke="#f4f0fa" stroke-width="0.17">0.084</text>
<text transform="translate(128.46 243.12) rotate(0.05)" font-size="4.67" text-anchor="middle" fill="#f4f0fa" stroke="#f4f0fa" stroke-width="0.17">0.028</text>
<text transform="translate(146.23 243.12) rotate(0.05)" font-size="4.67" text-anchor="middle" fill="#f4f0fa" stroke="#f4f0fa" stroke-width="0.17">0</text>
<text transform="translate(164.00 243.12) rotate(0.05)" font-size="4.67" text-anchor="middle" fill="#f4f0fa" stroke="#f4f0fa" stroke-width="0.17">0.031</text>
<text transform="translate(181.77 243.12) rotate(0.05)" font-size="4.67" text-anchor="middle" fill="#f4f0fa" stroke="#f4f0fa" stroke-width="0.17">0.028</text>
<text transform="translate(199.54 243.12) rotate(0.05)" font-size="4.67" text-anchor="middle" fill="#f4f0fa" stroke="#f4f0fa" stroke-width="0.17">0</text>
<text transform="translate(217.31 243.12) rotate(0.05)" font-size="4.67" text-anchor="middle" fill="#f4f0fa" stroke="#f4f0fa" stroke-width="0.17">0.056</text>
<text transform="translate(110.69 254.30) rotate(0.05)" font-size="4.67" text-anchor="middle" fill="#f4f0fa" stroke="#f4f0fa" stroke-width="0.17">0.056</text>
<text transform="translate(128.46 254.30) rotate(0.05)" font-size="4.67" text-anchor="middle" fill="#f4f0fa" stroke="#f4f0fa" stroke-width="0.17">0.028</text>
<text transform="translate(146.23 254.30) rotate(0.05)" font-size="4.67" text-anchor="middle" fill="#f4f0fa" stroke="#f4f0fa" stroke-width="0.17">0</text>
<text transform="translate(164.00 254.30) rotate(0.05)" font-size="4.67" text-anchor="middle" fill="#f4f0fa" stroke="#f4f0fa" stroke-width="0.17">0.023</text>
<text transform="translate(181.77 254.30) rotate(0.05)" font-size="4.67" text-anchor="middle" fill="#f4f0fa" stroke="#f4f0fa" stroke-width="0.17">0.028</text>
<text transform="translate(199.54 254.30) rotate(0.05)" font-size="4.67" text-anchor="middle" fill="#f4f0fa" stroke="#f4f0fa" stroke-width="0.17">0.084</text>
<text transform="translate(217.31 254.30) rotate(0.05)" font-size="4.67" text-anchor="middle" fill="#f4f0fa" stroke="#f4f0fa" stroke-width="0.17">0.34</text>
<text transform="translate(110.69 265.49) rotate(0.05)" font-size="4.67" text-anchor="middle" fill="#f4f0fa" stroke="#f4f0fa" stroke-width="0.17">0.084</text>
<text transform="translate(128.46 265.49) rotate(0.05)" font-size="4.67" text-anchor="middle" fill="#f4f0fa" stroke="#f4f0fa" stroke-width="0.17">0.056</text>
<text transform="translate(146.23 265.49) rotate(0.05)" font-size="4.67" text-anchor="middle" fill="#f4f0fa" stroke="#f4f0fa" stroke-width="0.17">0</text>
<text transform="translate(164.00 265.49) rotate(0.05)" font-size="4.67" text-anchor="middle" fill="#f4f0fa" stroke="#f4f0fa" stroke-width="0.17">0.028</text>
<text transform="translate(181.77 265.49) rotate(0.05)" font-size="4.67" text-anchor="middle" fill="#f4f0fa" stroke="#f4f0fa" stroke-width="0.17">0.028</text>
<text transform="translate(199.54 265.49) rotate(0.05)" font-size="4.67" text-anchor="middle" fill="#f4f0fa" stroke="#f4f0fa" stroke-width="0.17">0</text>
<text transform="translate(217.31 265.49) rotate(0.05)" font-size="4.67" text-anchor="middle" fill="#f4f0fa" stroke="#f4f0fa" stroke-width="0.17">0</text>
<text transform="translate(100.20 176.27) rotate(0.05)" font-size="5.51" text-anchor="end" fill="#262626" stroke="#262626" stroke-width="0.23">Average</text>
<text transform="translate(100.20 187.45) rotate(0.05)" font-size="5.51" text-anchor="end" fill="#262626" stroke="#262626" stroke-width="0.23">Random</text>
<text transform="translate(100.20 198.64) rotate(0.05)" font-size="5.51" text-anchor="end" fill="#262626" stroke="#262626" stroke-width="0.23">Segment</text>
<text transform="translate(100.20 209.83) rotate(0.05)" font-size="5.51" text-anchor="end" fill="#262626" stroke="#262626" stroke-width="0.23">Bandwagon</text>
<text transform="translate(100.20 221.02) rotate(0.05)" font-size="5.51" text-anchor="end" fill="#262626" stroke="#262626" stroke-width="0.23">DIFshilling</text>
<text transform="translate(100.20 232.21) rotate(0.05)" font-size="5.51" text-anchor="end" fill="#262626" stroke="#262626" stroke-width="0.23">AIA</text>
<text transform="translate(100.20 243.40) rotate(0.05)" font-size="5.51" text-anchor="end" fill="#262626" stroke="#262626" stroke-width="0.23">DCGAN</text>
<text transform="translate(100.20 254.59) rotate(0.05)" font-size="5.51" text-anchor="end" fill="#262626" stroke="#262626" stroke-width="0.23">AUSH</text>
<text transform="translate(100.20 265.78) rotate(0.05)" font-size="5.51" text-anchor="end" fill="#262626" stroke="#262626" stroke-width="0.23">Leg-UP</text>
<text transform="translate(107.49 271.50) rotate(-45)" font-size="5.56" text-anchor="end" fill="#262626" stroke="#262626" stroke-width="0.23" dy="4.00">BPR</text>
<text transform="translate(125.26 271.50) rotate(-45)" font-size="5.56" text-anchor="end" fill="#262626" stroke="#262626" stroke-width="0.23" dy="4.00">DGCF</text>
<text transform="translate(143.03 271.50) rotate(-45)" font-size="5.56" text-anchor="end" fill="#262626" stroke="#262626" stroke-width="0.23" dy="4.00">DMF</text>
<text transform="translate(160.80 271.50) rotate(-45)" font-size="5.56" text-anchor="end" fill="#262626" stroke="#262626" stroke-width="0.23" dy="4.00">GCMC</text>
<text transform="translate(178.57 271.50) rotate(-45)" font-size="5.56" text-anchor="end" fill="#262626" stroke="#262626" stroke-width="0.23" dy="4.00">NCL</text>
<text transform="translate(196.34 271.50) rotate(-45)" font-size="5.56" text-anchor="end" fill="#262626" stroke="#262626" stroke-width="0.23" dy="4.00">NeuMF</text>
<text transform="translate(214.11 271.50) rotate(-45)" font-size="5.56" text-anchor="end" fill="#262626" stroke="#262626" stroke-width="0.23" dy="4.00">NGCF</text>
<text transform="translate(164.30 166.95) rotate(0.05)" font-size="6.40" text-anchor="middle" fill="#262626" stroke="#262626" stroke-width="0.23">Fashion (%)</text>
<rect x="234.10" y="168.80" width="5.00" height="100.70" fill="url(#vg)"/>
<path d="M239.10 269.50h0.9" stroke="#555" stroke-width="0.3"/>
<text transform="translate(241.00 270.36) rotate(0.05)" font-size="2.40" text-anchor="start" fill="#262626" stroke="#262626" stroke-width="0.08">0.0</text>
<path d="M239.10 251.52h0.9" stroke="#555" stroke-width="0.3"/>
<text transform="translate(241.00 252.38) rotate(0.05)" font-size="2.40" text-anchor="start" fill="#262626" stroke="#262626" stroke-width="0.08">0.1</text>
<path d="M239.10 233.54h0.9" stroke="#555" stroke-width="0.3"/>
<text transform="translate(241.00 234.40) rotate(0.05)" font-size="2.40" text-anchor="start" fill="#262626" stroke="#262626" stroke-width="0.08">0.2</text>
<path d="M239.10 215.55h0.9" stroke="#555" stroke-width="0.3"/>
<text transform="translate(241.00 216.42) rotate(0.05)" font-size="2.40" text-anchor="start" fill="#262626" stroke="#262626" stroke-width="0.08">0.3</text>
<path d="M239.10 197.57h0.9" stroke="#555" stroke-width="0.3"/>
<text transform="translate(241.00 198.44) rotate(0.05)" font-size="2.40" text-anchor="start" fill="#262626" stroke="#262626" stroke-width="0.08">0.4</text>
<path d="M239.10 179.59h0.9" stroke="#555" stroke-width="0.3"/>
<text transform="translate(241.00 180.45) rotate(0.05)" font-size="2.40" text-anchor="start" fill="#262626" stroke="#262626" stroke-width="0.08">0.5</text>
</g>
<text transform="translate(97.80 303.70) rotate(0.03)" font-family="Liberation Serif, DejaVu Serif, serif" font-size="9.45" textLength="114.30" lengthAdjust="spacing" fill="#1c1c1c" stroke="#1c1c1c" stroke-width="0.14">(<tspan font-weight="bold">d</tspan>) The heatmap in Fashion.</text>
<g font-family="DejaVu Sans, Liberation Sans, sans-serif">
<rect x="343.30" y="169.90" width="17.69" height="11.14" fill="#4b2485"/>
<rect x="360.94" y="169.90" width="17.69" height="11.14" fill="#4b2485"/>
<rect x="378.59" y="169.90" width="17.69" height="11.14" fill="#4b1d7a"/>
<rect x="396.23" y="169.90" width="17.69" height="11.14" fill="#4b1b78"/>
<rect x="413.87" y="169.90" width="17.69" height="11.14" fill="#4b1b78"/>
<rect x="431.51" y="169.90" width="17.69" height="11.14" fill="#4b1b78"/>
<rect x="449.16" y="169.90" width="17.64" height="11.14" fill="#4b1b78"/>
<rect x="343.30" y="180.99" width="17.69" height="11.14" fill="#4b1b78"/>
<rect x="360.94" y="180.99" width="17.69" height="11.14" fill="#4b1b78"/>
<rect x="378.59" y="180.99" width="17.69" height="11.14" fill="#4b1b78"/>
<rect x="396.23" y="180.99" width="17.69" height="11.14" fill="#4b1b78"/>
<rect x="413.87" y="180.99" width="17.69" height="11.14" fill="#4b1b78"/>
<rect x="431.51" y="180.99" width="17.69" height="11.14" fill="#49156b"/>
<rect x="449.16" y="180.99" width="17.64" height="11.14" fill="#4b2485"/>
<rect x="343.30" y="192.08" width="17.69" height="11.14" fill="#4b1b78"/>
<rect x="360.94" y="192.08" width="17.69" height="11.14" fill="#4b1b78"/>
<rect x="378.59" y="192.08" width="17.69" height="11.14" fill="#4b2485"/>
<rect x="396.23" y="192.08" width="17.69" height="11.14" fill="#4b207e"/>
<rect x="413.87" y="192.08" width="17.69" height="11.14" fill="#4b1b78"/>
<rect x="431.51" y="192.08" width="17.69" height="11.14" fill="#4a2b8d"/>
<rect x="449.16" y="192.08" width="17.64" height="11.14" fill="#4b2485"/>
<rect x="343.30" y="203.17" width="17.69" height="11.14" fill="#4b2485"/>
<rect x="360.94" y="203.17" width="17.69" height="11.14" fill="#4b2485"/>
<rect x="378.59" y="203.17" width="17.69" height="11.14" fill="#49156b"/>
<rect x="396.23" y="203.17" width="17.69" height="11.14" fill="#4b2485"/>
<rect x="413.87" y="203.17" width="17.69" height="11.14" fill="#4b1b78"/>
<rect x="431.51" y="203.17" width="17.69" height="11.14" fill="#492d8f"/>
<rect x="449.16" y="203.17" width="17.64" height="11.14" fill="#374b9a"/>
<rect x="343.30" y="214.26" width="17.69" height="11.14" fill="#286097"/>
<rect x="360.94" y="214.26" width="17.69" height="11.14" fill="#40419a"/>
<rect x="378.59" y="214.26" width="17.69" height="11.14" fill="#305499"/>
<rect x="396.23" y="214.26" width="17.69" height="11.14" fill="#492d8f"/>
<rect x="413.87" y="214.26" width="17.69" height="11.14" fill="#209290"/>
<rect x="431.51" y="214.26" width="17.69" height="11.14" fill="#b2dd2d"/>
<rect x="449.16" y="214.26" width="17.64" height="11.14" fill="#fde725"/>
<rect x="343.30" y="225.34" width="17.69" height="11.14" fill="#4b1b78"/>
<rect x="360.94" y="225.34" width="17.69" height="11.14" fill="#49156b"/>
<rect x="378.59" y="225.34" width="17.69" height="11.14" fill="#49156b"/>
<rect x="396.23" y="225.34" width="17.69" height="11.14" fill="#4b1b78"/>
<rect x="413.87" y="225.34" width="17.69" height="11.14" fill="#49156b"/>
<rect x="431.51" y="225.34" width="17.69" height="11.14" fill="#305499"/>
<rect x="449.16" y="225.34" width="17.64" height="11.14" fill="#218e91"/>
<rect x="343.30" y="236.43" width="17.69" height="11.14" fill="#49156b"/>
<rect x="360.94" y="236.43" width="17.69" height="11.14" fill="#49156b"/>
<rect x="378.59" y="236.43" width="17.69" height="11.14" fill="#49156b"/>
<rect x="396.23" y="236.43" width="17.69" height="11.14" fill="#49156b"/>
<rect x="413.87" y="236.43" width="17.69" height="11.14" fill="#49156b"/>
<rect x="431.51" y="236.43" width="17.69" height="11.14" fill="#49156b"/>
<rect x="449.16" y="236.43" width="17.64" height="11.14" fill="#49156b"/>
<rect x="343.30" y="247.52" width="17.69" height="11.14" fill="#4b1b78"/>
<rect x="360.94" y="247.52" width="17.69" height="11.14" fill="#49156b"/>
<rect x="378.59" y="247.52" width="17.69" height="11.14" fill="#4b2282"/>
<rect x="396.23" y="247.52" width="17.69" height="11.14" fill="#463797"/>
<rect x="413.87" y="247.52" width="17.69" height="11.14" fill="#49156b"/>
<rect x="431.51" y="247.52" width="17.69" height="11.14" fill="#40419a"/>
<rect x="449.16" y="247.52" width="17.64" height="11.14" fill="#40419a"/>
<rect x="343.30" y="258.61" width="17.69" height="11.09" fill="#49156b"/>
<rect x="360.94" y="258.61" width="17.69" height="11.09" fill="#49156b"/>
<rect x="378.59" y="258.61" width="17.69" height="11.09" fill="#4b1b78"/>
<rect x="396.23" y="258.61" width="17.69" height="11.09" fill="#49156b"/>
<rect x="413.87" y="258.61" width="17.69" height="11.09" fill="#49156b"/>
<rect x="431.51" y="258.61" width="17.69" height="11.09" fill="#463797"/>
<rect x="449.16" y="258.61" width="17.64" height="11.09" fill="#49156b"/>
<path d="M360.94 169.90V269.70M378.59 169.90V269.70M396.23 169.90V269.70M413.87 169.90V269.70M431.51 169.90V269.70M449.16 169.90V269.70M343.30 180.99H466.80M343.30 192.08H466.80M343.30 203.17H466.80M343.30 214.26H466.80M343.30 225.34H466.80M343.30 236.43H466.80M343.30 247.52H466.80M343.30 258.61H466.80" stroke="#fff" stroke-width="0.30" stroke-opacity="0.16" fill="none"/>
<rect x="343.51" y="214.47" width="17.22" height="10.67" fill="none" stroke="#f01a1a" stroke-width="0.62"/>
<rect x="361.15" y="214.47" width="17.22" height="10.67" fill="none" stroke="#f01a1a" stroke-width="0.62"/>
<rect x="378.80" y="214.47" width="17.22" height="10.67" fill="none" stroke="#f01a1a" stroke-width="0.62"/>
<rect x="396.44" y="214.47" width="17.22" height="10.67" fill="none" stroke="#f01a1a" stroke-width="0.62"/>
<rect x="414.08" y="214.47" width="17.22" height="10.67" fill="none" stroke="#f01a1a" stroke-width="0.62"/>
<rect x="431.72" y="214.47" width="17.22" height="10.67" fill="none" stroke="#f01a1a" stroke-width="0.62"/>
<rect x="449.37" y="214.47" width="17.22" height="10.67" fill="none" stroke="#f01a1a" stroke-width="0.62"/>
<text transform="translate(352.12 177.02) rotate(0.05)" font-size="4.63" text-anchor="middle" fill="#f4f0fa" stroke="#f4f0fa" stroke-width="0.17">0.032</text>
<text transform="translate(369.76 177.02) rotate(0.05)" font-size="4.63" text-anchor="middle" fill="#f4f0fa" stroke="#f4f0fa" stroke-width="0.17">0.032</text>
<text transform="translate(387.41 177.02) rotate(0.05)" font-size="4.63" text-anchor="middle" fill="#f4f0fa" stroke="#f4f0fa" stroke-width="0.17">0.019</text>
<text transform="translate(405.05 177.02) rotate(0.05)" font-size="4.63" text-anchor="middle" fill="#f4f0fa" stroke="#f4f0fa" stroke-width="0.17">0.016</text>
<text transform="translate(422.69 177.02) rotate(0.05)" font-size="4.63" text-anchor="middle" fill="#f4f0fa" stroke="#f4f0fa" stroke-width="0.17">0.016</text>
<text transform="translate(440.34 177.02) rotate(0.05)" font-size="4.63" text-anchor="middle" fill="#f4f0fa" stroke="#f4f0fa" stroke-width="0.17">0.016</text>
<text transform="translate(457.98 177.02) rotate(0.05)" font-size="4.63" text-anchor="middle" fill="#f4f0fa" stroke="#f4f0fa" stroke-width="0.17">0.016</text>
<text transform="translate(352.12 188.11) rotate(0.05)" font-size="4.63" text-anchor="middle" fill="#f4f0fa" stroke="#f4f0fa" stroke-width="0.17">0.016</text>
<text transform="translate(369.76 188.11) rotate(0.05)" font-size="4.63" text-anchor="middle" fill="#f4f0fa" stroke="#f4f0fa" stroke-width="0.17">0.016</text>
<text transform="translate(387.41 188.11) rotate(0.05)" font-size="4.63" text-anchor="middle" fill="#f4f0fa" stroke="#f4f0fa" stroke-width="0.17">0.016</text>
<text transform="translate(405.05 188.11) rotate(0.05)" font-size="4.63" text-anchor="middle" fill="#f4f0fa" stroke="#f4f0fa" stroke-width="0.17">0.016</text>
<text transform="translate(422.69 188.11) rotate(0.05)" font-size="4.63" text-anchor="middle" fill="#f4f0fa" stroke="#f4f0fa" stroke-width="0.17">0.016</text>
<text transform="translate(440.34 188.11) rotate(0.05)" font-size="4.63" text-anchor="middle" fill="#f4f0fa" stroke="#f4f0fa" stroke-width="0.17">0</text>
<text transform="translate(457.98 188.11) rotate(0.05)" font-size="4.63" text-anchor="middle" fill="#f4f0fa" stroke="#f4f0fa" stroke-width="0.17">0.032</text>
<text transform="translate(352.12 199.20) rotate(0.05)" font-size="4.63" text-anchor="middle" fill="#f4f0fa" stroke="#f4f0fa" stroke-width="0.17">0.016</text>
<text transform="translate(369.76 199.20) rotate(0.05)" font-size="4.63" text-anchor="middle" fill="#f4f0fa" stroke="#f4f0fa" stroke-width="0.17">0.016</text>
<text transform="translate(387.41 199.20) rotate(0.05)" font-size="4.63" text-anchor="middle" fill="#f4f0fa" stroke="#f4f0fa" stroke-width="0.17">0.032</text>
<text transform="translate(405.05 199.20) rotate(0.05)" font-size="4.63" text-anchor="middle" fill="#f4f0fa" stroke="#f4f0fa" stroke-width="0.17">0.024</text>
<text transform="translate(422.69 199.20) rotate(0.05)" font-size="4.63" text-anchor="middle" fill="#f4f0fa" stroke="#f4f0fa" stroke-width="0.17">0.016</text>
<text transform="translate(440.34 199.20) rotate(0.05)" font-size="4.63" text-anchor="middle" fill="#f4f0fa" stroke="#f4f0fa" stroke-width="0.17">0.044</text>
<text transform="translate(457.98 199.20) rotate(0.05)" font-size="4.63" text-anchor="middle" fill="#f4f0fa" stroke="#f4f0fa" stroke-width="0.17">0.032</text>
<text transform="translate(352.12 210.29) rotate(0.05)" font-size="4.63" text-anchor="middle" fill="#f4f0fa" stroke="#f4f0fa" stroke-width="0.17">0.032</text>
<text transform="translate(369.76 210.29) rotate(0.05)" font-size="4.63" text-anchor="middle" fill="#f4f0fa" stroke="#f4f0fa" stroke-width="0.17">0.032</text>
<text transform="translate(387.41 210.29) rotate(0.05)" font-size="4.63" text-anchor="middle" fill="#f4f0fa" stroke="#f4f0fa" stroke-width="0.17">0</text>
<text transform="translate(405.05 210.29) rotate(0.05)" font-size="4.63" text-anchor="middle" fill="#f4f0fa" stroke="#f4f0fa" stroke-width="0.17">0.032</text>
<text transform="translate(422.69 210.29) rotate(0.05)" font-size="4.63" text-anchor="middle" fill="#f4f0fa" stroke="#f4f0fa" stroke-width="0.17">0.016</text>
<text transform="translate(440.34 210.29) rotate(0.05)" font-size="4.63" text-anchor="middle" fill="#f4f0fa" stroke="#f4f0fa" stroke-width="0.17">0.048</text>
<text transform="translate(457.98 210.29) rotate(0.05)" font-size="4.63" text-anchor="middle" fill="#f4f0fa" stroke="#f4f0fa" stroke-width="0.17">0.096</text>
<text transform="translate(352.12 221.38) rotate(0.05)" font-size="4.63" text-anchor="middle" fill="#f4f0fa" stroke="#f4f0fa" stroke-width="0.17">0.13</text>
<text transform="translate(369.76 221.38) rotate(0.05)" font-size="4.63" text-anchor="middle" fill="#f4f0fa" stroke="#f4f0fa" stroke-width="0.17">0.08</text>
<text transform="translate(387.41 221.38) rotate(0.05)" font-size="4.63" text-anchor="middle" fill="#f4f0fa" stroke="#f4f0fa" stroke-width="0.17">0.11</text>
<text transform="translate(405.05 221.38) rotate(0.05)" font-size="4.63" text-anchor="middle" fill="#f4f0fa" stroke="#f4f0fa" stroke-width="0.17">0.048</text>
<text transform="translate(422.69 221.38) rotate(0.05)" font-size="4.63" text-anchor="middle" fill="#f4f0fa" stroke="#f4f0fa" stroke-width="0.17">0.22</text>
<text transform="translate(440.34 221.38) rotate(0.05)" font-size="4.63" text-anchor="middle" fill="#444444" stroke="#444444" stroke-width="0.05">0.38</text>
<text transform="translate(457.98 221.38) rotate(0.05)" font-size="4.63" text-anchor="middle" fill="#444444" stroke="#444444" stroke-width="0.05">0.43</text>
<text transform="translate(352.12 232.47) rotate(0.05)" font-size="4.63" text-anchor="middle" fill="#f4f0fa" stroke="#f4f0fa" stroke-width="0.17">0.016</text>
<text transform="translate(369.76 232.47) rotate(0.05)" font-size="4.63" text-anchor="middle" fill="#f4f0fa" stroke="#f4f0fa" stroke-width="0.17">0</text>
<text transform="translate(387.41 232.47) rotate(0.05)" font-size="4.63" text-anchor="middle" fill="#f4f0fa" stroke="#f4f0fa" stroke-width="0.17">0</text>
<text transform="translate(405.05 232.47) rotate(0.05)" font-size="4.63" text-anchor="middle" fill="#f4f0fa" stroke="#f4f0fa" stroke-width="0.17">0.016</text>
<text transform="translate(422.69 232.47) rotate(0.05)" font-size="4.63" text-anchor="middle" fill="#f4f0fa" stroke="#f4f0fa" stroke-width="0.17">0</text>
<text transform="translate(440.34 232.47) rotate(0.05)" font-size="4.63" text-anchor="middle" fill="#f4f0fa" stroke="#f4f0fa" stroke-width="0.17">0.11</text>
<text transform="translate(457.98 232.47) rotate(0.05)" font-size="4.63" text-anchor="middle" fill="#f4f0fa" stroke="#f4f0fa" stroke-width="0.17">0.21</text>
<text transform="translate(352.12 243.56) rotate(0.05)" font-size="4.63" text-anchor="middle" fill="#f4f0fa" stroke="#f4f0fa" stroke-width="0.17">0</text>
<text transform="translate(369.76 243.56) rotate(0.05)" font-size="4.63" text-anchor="middle" fill="#f4f0fa" stroke="#f4f0fa" stroke-width="0.17">0</text>
<text transform="translate(387.41 243.56) rotate(0.05)" font-size="4.63" text-anchor="middle" fill="#f4f0fa" stroke="#f4f0fa" stroke-width="0.17">0</text>
<text transform="translate(405.05 243.56) rotate(0.05)" font-size="4.63" text-anchor="middle" fill="#f4f0fa" stroke="#f4f0fa" stroke-width="0.17">0</text>
<text transform="translate(422.69 243.56) rotate(0.05)" font-size="4.63" text-anchor="middle" fill="#f4f0fa" stroke="#f4f0fa" stroke-width="0.17">0</text>
<text transform="translate(440.34 243.56) rotate(0.05)" font-size="4.63" text-anchor="middle" fill="#f4f0fa" stroke="#f4f0fa" stroke-width="0.17">0</text>
<text transform="translate(457.98 243.56) rotate(0.05)" font-size="4.63" text-anchor="middle" fill="#f4f0fa" stroke="#f4f0fa" stroke-width="0.17">0</text>
<text transform="translate(352.12 254.64) rotate(0.05)" font-size="4.63" text-anchor="middle" fill="#f4f0fa" stroke="#f4f0fa" stroke-width="0.17">0.016</text>
<text transform="translate(369.76 254.64) rotate(0.05)" font-size="4.63" text-anchor="middle" fill="#f4f0fa" stroke="#f4f0fa" stroke-width="0.17">0</text>
<text transform="translate(387.41 254.64) rotate(0.05)" font-size="4.63" text-anchor="middle" fill="#f4f0fa" stroke="#f4f0fa" stroke-width="0.17">0.029</text>
<text transform="translate(405.05 254.64) rotate(0.05)" font-size="4.63" text-anchor="middle" fill="#f4f0fa" stroke="#f4f0fa" stroke-width="0.17">0.064</text>
<text transform="translate(422.69 254.64) rotate(0.05)" font-size="4.63" text-anchor="middle" fill="#f4f0fa" stroke="#f4f0fa" stroke-width="0.17">0</text>
<text transform="translate(440.34 254.64) rotate(0.05)" font-size="4.63" text-anchor="middle" fill="#f4f0fa" stroke="#f4f0fa" stroke-width="0.17">0.08</text>
<text transform="translate(457.98 254.64) rotate(0.05)" font-size="4.63" text-anchor="middle" fill="#f4f0fa" stroke="#f4f0fa" stroke-width="0.17">0.08</text>
<text transform="translate(352.12 265.73) rotate(0.05)" font-size="4.63" text-anchor="middle" fill="#f4f0fa" stroke="#f4f0fa" stroke-width="0.17">0</text>
<text transform="translate(369.76 265.73) rotate(0.05)" font-size="4.63" text-anchor="middle" fill="#f4f0fa" stroke="#f4f0fa" stroke-width="0.17">0</text>
<text transform="translate(387.41 265.73) rotate(0.05)" font-size="4.63" text-anchor="middle" fill="#f4f0fa" stroke="#f4f0fa" stroke-width="0.17">0.016</text>
<text transform="translate(405.05 265.73) rotate(0.05)" font-size="4.63" text-anchor="middle" fill="#f4f0fa" stroke="#f4f0fa" stroke-width="0.17">0</text>
<text transform="translate(422.69 265.73) rotate(0.05)" font-size="4.63" text-anchor="middle" fill="#f4f0fa" stroke="#f4f0fa" stroke-width="0.17">0</text>
<text transform="translate(440.34 265.73) rotate(0.05)" font-size="4.63" text-anchor="middle" fill="#f4f0fa" stroke="#f4f0fa" stroke-width="0.17">0.064</text>
<text transform="translate(457.98 265.73) rotate(0.05)" font-size="4.63" text-anchor="middle" fill="#f4f0fa" stroke="#f4f0fa" stroke-width="0.17">0</text>
<text transform="translate(341.70 177.30) rotate(0.05)" font-size="5.47" text-anchor="end" fill="#262626" stroke="#262626" stroke-width="0.23">Average</text>
<text transform="translate(341.70 188.39) rotate(0.05)" font-size="5.47" text-anchor="end" fill="#262626" stroke="#262626" stroke-width="0.23">Random</text>
<text transform="translate(341.70 199.48) rotate(0.05)" font-size="5.47" text-anchor="end" fill="#262626" stroke="#262626" stroke-width="0.23">Segment</text>
<text transform="translate(341.70 210.57) rotate(0.05)" font-size="5.47" text-anchor="end" fill="#262626" stroke="#262626" stroke-width="0.23">Bandwagon</text>
<text transform="translate(341.70 221.66) rotate(0.05)" font-size="5.47" text-anchor="end" fill="#262626" stroke="#262626" stroke-width="0.23">DIFshilling</text>
<text transform="translate(341.70 232.75) rotate(0.05)" font-size="5.47" text-anchor="end" fill="#262626" stroke="#262626" stroke-width="0.23">AIA</text>
<text transform="translate(341.70 243.84) rotate(0.05)" font-size="5.47" text-anchor="end" fill="#262626" stroke="#262626" stroke-width="0.23">DCGAN</text>
<text transform="translate(341.70 254.93) rotate(0.05)" font-size="5.47" text-anchor="end" fill="#262626" stroke="#262626" stroke-width="0.23">AUSH</text>
<text transform="translate(341.70 266.01) rotate(0.05)" font-size="5.47" text-anchor="end" fill="#262626" stroke="#262626" stroke-width="0.23">Leg-UP</text>
<text transform="translate(348.92 271.70) rotate(-45)" font-size="5.52" text-anchor="end" fill="#262626" stroke="#262626" stroke-width="0.23" dy="3.97">BPR</text>
<text transform="translate(366.56 271.70) rotate(-45)" font-size="5.52" text-anchor="end" fill="#262626" stroke="#262626" stroke-width="0.23" dy="3.97">DGCF</text>
<text transform="translate(384.21 271.70) rotate(-45)" font-size="5.52" text-anchor="end" fill="#262626" stroke="#262626" stroke-width="0.23" dy="3.97">DMF</text>
<text transform="translate(401.85 271.70) rotate(-45)" font-size="5.52" text-anchor="end" fill="#262626" stroke="#262626" stroke-width="0.23" dy="3.97">GCMC</text>
<text transform="translate(419.49 271.70) rotate(-45)" font-size="5.52" text-anchor="end" fill="#262626" stroke="#262626" stroke-width="0.23" dy="3.97">NCL</text>
<text transform="translate(437.14 271.70) rotate(-45)" font-size="5.52" text-anchor="end" fill="#262626" stroke="#262626" stroke-width="0.23" dy="3.97">NeuMF</text>
<text transform="translate(454.78 271.70) rotate(-45)" font-size="5.52" text-anchor="end" fill="#262626" stroke="#262626" stroke-width="0.23" dy="3.97">NGCF</text>
<text transform="translate(405.35 168.05) rotate(0.05)" font-size="6.35" text-anchor="middle" fill="#262626" stroke="#262626" stroke-width="0.23">Book-crossing (%)</text>
<rect x="474.80" y="169.90" width="5.00" height="99.80" fill="url(#vg)"/>
<path d="M479.80 269.70h0.9" stroke="#555" stroke-width="0.3"/>
<text transform="translate(481.70 270.56) rotate(0.05)" font-size="2.40" text-anchor="start" fill="#262626" stroke="#262626" stroke-width="0.08">0.00</text>
<path d="M479.80 258.10h0.9" stroke="#555" stroke-width="0.3"/>
<text transform="translate(481.70 258.96) rotate(0.05)" font-size="2.40" text-anchor="start" fill="#262626" stroke="#262626" stroke-width="0.08">0.05</text>
<path d="M479.80 246.49h0.9" stroke="#555" stroke-width="0.3"/>
<text transform="translate(481.70 247.35) rotate(0.05)" font-size="2.40" text-anchor="start" fill="#262626" stroke="#262626" stroke-width="0.08">0.10</text>
<path d="M479.80 234.89h0.9" stroke="#555" stroke-width="0.3"/>
<text transform="translate(481.70 235.75) rotate(0.05)" font-size="2.40" text-anchor="start" fill="#262626" stroke="#262626" stroke-width="0.08">0.15</text>
<path d="M479.80 223.28h0.9" stroke="#555" stroke-width="0.3"/>
<text transform="translate(481.70 224.15) rotate(0.05)" font-size="2.40" text-anchor="start" fill="#262626" stroke="#262626" stroke-width="0.08">0.20</text>
<path d="M479.80 211.68h0.9" stroke="#555" stroke-width="0.3"/>
<text transform="translate(481.70 212.54) rotate(0.05)" font-size="2.40" text-anchor="start" fill="#262626" stroke="#262626" stroke-width="0.08">0.25</text>
<path d="M479.80 200.07h0.9" stroke="#555" stroke-width="0.3"/>
<text transform="translate(481.70 200.94) rotate(0.05)" font-size="2.40" text-anchor="start" fill="#262626" stroke="#262626" stroke-width="0.08">0.30</text>
<path d="M479.80 188.47h0.9" stroke="#555" stroke-width="0.3"/>
<text transform="translate(481.70 189.33) rotate(0.05)" font-size="2.40" text-anchor="start" fill="#262626" stroke="#262626" stroke-width="0.08">0.35</text>
<path d="M479.80 176.86h0.9" stroke="#555" stroke-width="0.3"/>
<text transform="translate(481.70 177.73) rotate(0.05)" font-size="2.40" text-anchor="start" fill="#262626" stroke="#262626" stroke-width="0.08">0.40</text>
</g>
<text transform="translate(326.90 303.70) rotate(0.03)" font-family="Liberation Serif, DejaVu Serif, serif" font-size="9.45" textLength="140.70" lengthAdjust="spacing" fill="#1c1c1c" stroke="#1c1c1c" stroke-width="0.14">(<tspan font-weight="bold">e</tspan>) The heatmap in Book-crossing.</text>
</svg>
</body></html>
